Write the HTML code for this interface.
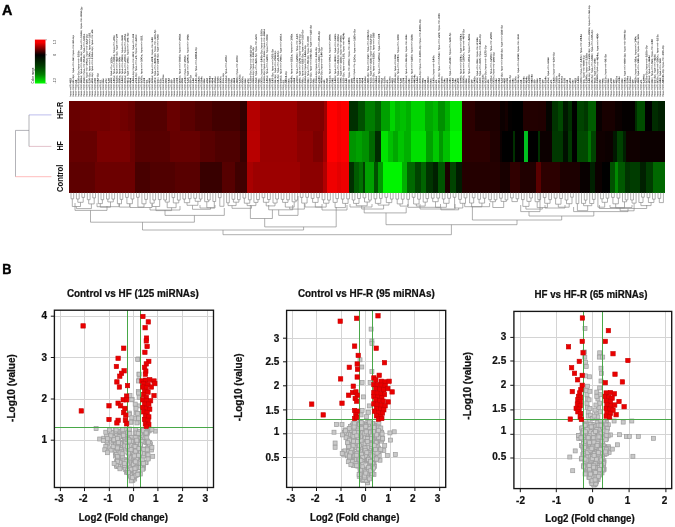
<!DOCTYPE html>
<html lang="en"><head><meta charset="utf-8"><title>miRNA heatmap and volcano plots</title>
<style>html,body{margin:0;padding:0;background:#fff}svg{display:block}</style></head><body>
<svg width="675" height="527" viewBox="0 0 675 527">
<rect width="675" height="527" fill="#fff"/>
<defs><linearGradient id="lg" x1="0" y1="0" x2="0" y2="1"><stop offset="0" stop-color="#ff0000"/><stop offset="0.07" stop-color="#f40000"/><stop offset="0.35" stop-color="#000"/><stop offset="0.6" stop-color="#003c00"/><stop offset="0.8" stop-color="#008000"/><stop offset="0.93" stop-color="#00d000"/><stop offset="1" stop-color="#00ff00"/></linearGradient></defs>
<g font-family='"Liberation Sans", sans-serif' font-weight="bold" fill="#000" stroke="#000" stroke-width="0.4" font-size="15.2">
<text transform="translate(2.1,15.0) scale(0.95,1)">A</text><text transform="translate(2.2,274.3) scale(0.84,1)">B</text></g>
<rect x="34.9" y="39.6" width="10.6" height="43.9" fill="url(#lg)"/>
<path d="M45.5,39.8h1.3M45.5,54.8h1.3M45.5,83.3h1.3" stroke="#444" stroke-width="0.5"/>
<g font-family='"Liberation Sans", sans-serif' font-size="2.9" fill="#111">
<text transform="translate(55.5,40) rotate(-90)" text-anchor="end">1.2</text>
<text transform="translate(55.5,54.8) rotate(-90)" text-anchor="middle">0</text>
<text transform="translate(55.5,83.2) rotate(-90)" text-anchor="start">-2.2</text>
<text transform="translate(34.3,83.5) rotate(-90)" font-size="2.6" textLength="16" lengthAdjust="spacingAndGlyphs">Color range</text>
</g>
<g font-family='"Liberation Sans", sans-serif' font-size="2.25" fill="#1c1c1c" stroke="#1c1c1c" stroke-width="0.05" text-rendering="geometricPrecision">
<text transform="translate(71.16,96.5) rotate(-89.97) scale(1.45,1)">hsa-miR-423</text>
<text transform="translate(73.89,96.5) rotate(-89.97) scale(1.45,1)">hsa-miR-30-3p; hpa-mir-92; hpa-mir-30-5p</text>
<text transform="translate(76.62,96.5) rotate(-89.97) scale(1.45,1)">hsa-miR-34</text>
<text transform="translate(79.35,96.5) rotate(-89.97) scale(1.45,1)">hsa-miR-210a-5p; hpa-mir-191c</text>
<text transform="translate(82.08,96.5) rotate(-89.97) scale(1.45,1)">hsa-miR-423a; hpa-mir-365-5p; hpa-mir-155b; hpa-mir-338-3p</text>
<text transform="translate(84.81,96.5) rotate(-89.97) scale(1.45,1)">hsa-miR-192c; hpa-mir-652b; hpa-mir-133a</text>
<text transform="translate(87.54,96.5) rotate(-89.97) scale(1.45,1)">hsa-miR-29; hpa-mir-191a; hpa-mir-222-3p</text>
<text transform="translate(90.27,96.5) rotate(-89.97) scale(1.45,1)">hsa-miR-150-5p; hpa-mir-199c; hpa-mir-181</text>
<text transform="translate(93.00,96.5) rotate(-89.97) scale(1.45,1)">hsa-miR-200-5p; hpa-mir-191a-5p; hpa-mir-29</text>
<text transform="translate(95.73,96.5) rotate(-89.97) scale(1.45,1)">hsa-miR-378</text>
<text transform="translate(98.46,96.5) rotate(-89.97) scale(1.45,1)">hsa-miR-342-5p</text>
<text transform="translate(101.19,96.5) rotate(-89.97) scale(1.45,1)">hsa-miR-21</text>
<text transform="translate(103.92,96.5) rotate(-89.97) scale(1.45,1)">hsa-miR-99c</text>
<text transform="translate(106.65,96.5) rotate(-89.97) scale(1.45,1)">hsa-miR-21c</text>
<text transform="translate(109.38,96.5) rotate(-89.97) scale(1.45,1)">hsa-miR-126</text>
<text transform="translate(112.11,96.5) rotate(-89.97) scale(1.45,1)">hsa-miR-223; hpa-mir-133b</text>
<text transform="translate(114.84,96.5) rotate(-89.97) scale(1.45,1)">hsa-miR-140a; hpa-mir-193a; hpa-mir-29a</text>
<text transform="translate(117.58,96.5) rotate(-89.97) scale(1.45,1)">hsa-miR-183b; hpa-mir-423-5p; hpa-mir-29</text>
<text transform="translate(120.31,96.5) rotate(-89.97) scale(1.45,1)">hsa-miR-296a; hpa-mir-99b</text>
<text transform="translate(123.04,96.5) rotate(-89.97) scale(1.45,1)">hsa-miR-148b; hpa-mir-766b; hpa-mir-324</text>
<text transform="translate(125.77,96.5) rotate(-89.97) scale(1.45,1)">hsa-miR-103a; hpa-mir-205b; hpa-mir-205a</text>
<text transform="translate(128.50,96.5) rotate(-89.97) scale(1.45,1)">hsa-miR-451; hpa-mir-195c; hpa-mir-191-5p</text>
<text transform="translate(131.23,96.5) rotate(-89.97) scale(1.45,1)">hsa-miR-494</text>
<text transform="translate(133.96,96.5) rotate(-89.97) scale(1.45,1)">hsa-miR-146a-5p; hpa-mir-361; hpa-mir-34</text>
<text transform="translate(136.69,96.5) rotate(-89.97) scale(1.45,1)">hsa-miR-214-5p; hpa-mir-21; hpa-mir-221c</text>
<text transform="translate(139.42,96.5) rotate(-89.97) scale(1.45,1)">hsa-miR-191c</text>
<text transform="translate(142.15,96.5) rotate(-89.97) scale(1.45,1)">hsa-miR-106b; hpa-mir-100a; hpa-mir-221</text>
<text transform="translate(144.88,96.5) rotate(-89.97) scale(1.45,1)">hsa-miR-574</text>
<text transform="translate(147.61,96.5) rotate(-89.97) scale(1.45,1)">hsa-miR-21</text>
<text transform="translate(150.34,96.5) rotate(-89.97) scale(1.45,1)">hsa-miR-499</text>
<text transform="translate(153.07,96.5) rotate(-89.97) scale(1.45,1)">hsa-miR-106a; hpa-mir-874; hpa-mir-143</text>
<text transform="translate(155.80,96.5) rotate(-89.97) scale(1.45,1)">hsa-miR-361; hpa-mir-484-3p; hpa-mir-181-5p</text>
<text transform="translate(158.53,96.5) rotate(-89.97) scale(1.45,1)">hsa-miR-21c; hpa-mir-324-5p; hpa-mir-103</text>
<text transform="translate(161.26,96.5) rotate(-89.97) scale(1.45,1)">hsa-miR-21c</text>
<text transform="translate(163.99,96.5) rotate(-89.97) scale(1.45,1)">hsa-miR-1275c</text>
<text transform="translate(166.72,96.5) rotate(-89.97) scale(1.45,1)">hsa-miR-660</text>
<text transform="translate(169.45,96.5) rotate(-89.97) scale(1.45,1)">hsa-miR-143</text>
<text transform="translate(172.18,96.5) rotate(-89.97) scale(1.45,1)">hsa-miR-29</text>
<text transform="translate(174.91,96.5) rotate(-89.97) scale(1.45,1)">hsa-miR-532</text>
<text transform="translate(177.64,96.5) rotate(-89.97) scale(1.45,1)">hsa-miR-374</text>
<text transform="translate(180.37,96.5) rotate(-89.97) scale(1.45,1)">hsa-miR-200b; hpa-mir-503b; hpa-mir-203a</text>
<text transform="translate(183.10,96.5) rotate(-89.97) scale(1.45,1)">hsa-miR-766</text>
<text transform="translate(185.83,96.5) rotate(-89.97) scale(1.45,1)">hsa-miR-214c; hpa-mir-766c</text>
<text transform="translate(188.56,96.5) rotate(-89.97) scale(1.45,1)">hsa-miR-122; hpa-mir-1290a; hpa-mir-192c</text>
<text transform="translate(191.29,96.5) rotate(-89.97) scale(1.45,1)">hsa-miR-29-5p</text>
<text transform="translate(194.02,96.5) rotate(-89.97) scale(1.45,1)">hsa-miR-140</text>
<text transform="translate(196.75,96.5) rotate(-89.97) scale(1.45,1)">hsa-miR-145-3p; hpa-mir-4454-5p</text>
<text transform="translate(199.48,96.5) rotate(-89.97) scale(1.45,1)">hsa-miR-342c</text>
<text transform="translate(202.21,96.5) rotate(-89.97) scale(1.45,1)">hsa-miR-324c</text>
<text transform="translate(204.94,96.5) rotate(-89.97) scale(1.45,1)">hsa-miR-99c</text>
<text transform="translate(207.68,96.5) rotate(-89.97) scale(1.45,1)">hsa-miR-222</text>
<text transform="translate(210.41,96.5) rotate(-89.97) scale(1.45,1)">hsa-miR-494a</text>
<text transform="translate(213.14,96.5) rotate(-89.97) scale(1.45,1)">hsa-miR-494</text>
<text transform="translate(215.87,96.5) rotate(-89.97) scale(1.45,1)">hsa-miR-766c</text>
<text transform="translate(218.60,96.5) rotate(-89.97) scale(1.45,1)">hsa-miR-192c</text>
<text transform="translate(221.33,96.5) rotate(-89.97) scale(1.45,1)">hsa-miR-200c</text>
<text transform="translate(224.06,96.5) rotate(-89.97) scale(1.45,1)">hsa-miR-155-5p</text>
<text transform="translate(226.79,96.5) rotate(-89.97) scale(1.45,1)">hsa-miR-182a; hpa-mir-205c</text>
<text transform="translate(229.52,96.5) rotate(-89.97) scale(1.45,1)">hsa-miR-378</text>
<text transform="translate(232.25,96.5) rotate(-89.97) scale(1.45,1)">hsa-miR-92c</text>
<text transform="translate(234.98,96.5) rotate(-89.97) scale(1.45,1)">hsa-miR-484</text>
<text transform="translate(237.71,96.5) rotate(-89.97) scale(1.45,1)">hsa-miR-486c; hpa-mir-100c</text>
<text transform="translate(240.44,96.5) rotate(-89.97) scale(1.45,1)">hsa-miR-1275c</text>
<text transform="translate(243.17,96.5) rotate(-89.97) scale(1.45,1)">hsa-miR-660c</text>
<text transform="translate(245.90,96.5) rotate(-89.97) scale(1.45,1)">hsa-miR-92c</text>
<text transform="translate(248.63,96.5) rotate(-89.97) scale(1.45,1)">hsa-miR-21c</text>
<text transform="translate(251.36,96.5) rotate(-89.97) scale(1.45,1)">hsa-miR-128a-5p; hpa-mir-3613-3p</text>
<text transform="translate(254.09,96.5) rotate(-89.97) scale(1.45,1)">hsa-miR-328a-5p; hpa-mir-130-3p</text>
<text transform="translate(256.82,96.5) rotate(-89.97) scale(1.45,1)">hsa-miR-532; hpa-mir-423-5p; hpa-mir-221</text>
<text transform="translate(259.55,96.5) rotate(-89.97) scale(1.45,1)">hsa-miR-92c</text>
<text transform="translate(262.28,96.5) rotate(-89.97) scale(1.45,1)">hsa-miR-365c; hpa-mir-148b-3p; hpa-mir-195b</text>
<text transform="translate(265.01,96.5) rotate(-89.97) scale(1.45,1)">hsa-miR-150b-3p; hpa-mir-155c; hpa-mir-590a</text>
<text transform="translate(267.74,96.5) rotate(-89.97) scale(1.45,1)">hsa-miR-146a; hpa-mir-128b; hpa-mir-503c</text>
<text transform="translate(270.47,96.5) rotate(-89.97) scale(1.45,1)">hsa-miR-320</text>
<text transform="translate(273.20,96.5) rotate(-89.97) scale(1.45,1)">hsa-miR-143-3p; hpa-mir-361-3p</text>
<text transform="translate(275.93,96.5) rotate(-89.97) scale(1.45,1)">hsa-miR-92-3p; hpa-mir-744-3p</text>
<text transform="translate(278.66,96.5) rotate(-89.97) scale(1.45,1)">hsa-miR-34-5p; hpa-mir-214-5p</text>
<text transform="translate(281.39,96.5) rotate(-89.97) scale(1.45,1)">hsa-miR-210a; hpa-mir-766c; hpa-mir-205a</text>
<text transform="translate(284.12,96.5) rotate(-89.97) scale(1.45,1)">hsa-miR-21</text>
<text transform="translate(286.85,96.5) rotate(-89.97) scale(1.45,1)">hsa-miR-4454-3p</text>
<text transform="translate(289.58,96.5) rotate(-89.97) scale(1.45,1)">hsa-miR-30c</text>
<text transform="translate(292.31,96.5) rotate(-89.97) scale(1.45,1)">hsa-miR-424b; hpa-mir-221a; hpa-mir-192a</text>
<text transform="translate(295.04,96.5) rotate(-89.97) scale(1.45,1)">hsa-miR-324</text>
<text transform="translate(297.77,96.5) rotate(-89.97) scale(1.45,1)">hsa-miR-210b; hpa-mir-1290c; hpa-mir-125</text>
<text transform="translate(300.51,96.5) rotate(-89.97) scale(1.45,1)">hsa-miR-29b; hpa-mir-374; hpa-mir-125-5p</text>
<text transform="translate(303.24,96.5) rotate(-89.97) scale(1.45,1)">hsa-miR-92c; hpa-mir-222-5p; hpa-mir-125-5p</text>
<text transform="translate(305.97,96.5) rotate(-89.97) scale(1.45,1)">hsa-miR-150a-5p; hpa-mir-148a-5p</text>
<text transform="translate(308.70,96.5) rotate(-89.97) scale(1.45,1)">hsa-miR-92c; hpa-mir-99-3p; hpa-mir-590</text>
<text transform="translate(311.43,96.5) rotate(-89.97) scale(1.45,1)">hsa-miR-155-5p; hpa-mir-34b-3p; hpa-mir-125-3p</text>
<text transform="translate(314.16,96.5) rotate(-89.97) scale(1.45,1)">hsa-miR-92c</text>
<text transform="translate(316.89,96.5) rotate(-89.97) scale(1.45,1)">hsa-miR-195a-5p; hpa-mir-122-3p</text>
<text transform="translate(319.62,96.5) rotate(-89.97) scale(1.45,1)">hsa-miR-214b; hpa-mir-183c; hpa-mir-361-3p</text>
<text transform="translate(322.35,96.5) rotate(-89.97) scale(1.45,1)">hsa-miR-499b-3p; hpa-mir-140-5p</text>
<text transform="translate(325.08,96.5) rotate(-89.97) scale(1.45,1)">hsa-miR-30</text>
<text transform="translate(327.81,96.5) rotate(-89.97) scale(1.45,1)">hsa-miR-590</text>
<text transform="translate(330.54,96.5) rotate(-89.97) scale(1.45,1)">hsa-miR-181a; hpa-mir-191a; hpa-mir-200c</text>
<text transform="translate(333.27,96.5) rotate(-89.97) scale(1.45,1)">hsa-miR-342</text>
<text transform="translate(336.00,96.5) rotate(-89.97) scale(1.45,1)">hsa-miR-140b; hpa-mir-497c; hpa-mir-122b</text>
<text transform="translate(338.73,96.5) rotate(-89.97) scale(1.45,1)">hsa-miR-155; hpa-mir-34-3p; hpa-mir-338a</text>
<text transform="translate(341.46,96.5) rotate(-89.97) scale(1.45,1)">hsa-miR-590; hpa-mir-183b; hpa-mir-106a</text>
<text transform="translate(344.19,96.5) rotate(-89.97) scale(1.45,1)">hsa-miR-183-5p; hpa-mir-181; hpa-mir-424c</text>
<text transform="translate(346.92,96.5) rotate(-89.97) scale(1.45,1)">hsa-miR-140</text>
<text transform="translate(349.65,96.5) rotate(-89.97) scale(1.45,1)">hsa-miR-92; hpa-mir-365c; hpa-mir-146b</text>
<text transform="translate(352.38,96.5) rotate(-89.97) scale(1.45,1)">hsa-miR-29b</text>
<text transform="translate(355.11,96.5) rotate(-89.97) scale(1.45,1)">hsa-miR-574c; hpa-mir-130a; hpa-mir-126b-3p</text>
<text transform="translate(357.84,96.5) rotate(-89.97) scale(1.45,1)">hsa-miR-221</text>
<text transform="translate(360.57,96.5) rotate(-89.97) scale(1.45,1)">hsa-miR-214</text>
<text transform="translate(363.30,96.5) rotate(-89.97) scale(1.45,1)">hsa-miR-494</text>
<text transform="translate(366.03,96.5) rotate(-89.97) scale(1.45,1)">hsa-miR-126c</text>
<text transform="translate(368.76,96.5) rotate(-89.97) scale(1.45,1)">hsa-miR-486-3p; hpa-mir-92c; hpa-mir-342-5p</text>
<text transform="translate(371.49,96.5) rotate(-89.97) scale(1.45,1)">hsa-miR-155; hpa-mir-338; hpa-mir-532-3p</text>
<text transform="translate(374.22,96.5) rotate(-89.97) scale(1.45,1)">hsa-miR-155-3p; hpa-mir-223c; hpa-mir-328</text>
<text transform="translate(376.95,96.5) rotate(-89.97) scale(1.45,1)">hsa-miR-342a</text>
<text transform="translate(379.68,96.5) rotate(-89.97) scale(1.45,1)">hsa-miR-423a; hpa-mir-1260a; hpa-mir-574</text>
<text transform="translate(382.41,96.5) rotate(-89.97) scale(1.45,1)">hsa-miR-652</text>
<text transform="translate(385.14,96.5) rotate(-89.97) scale(1.45,1)">hsa-miR-183c</text>
<text transform="translate(387.87,96.5) rotate(-89.97) scale(1.45,1)">hsa-miR-21</text>
<text transform="translate(390.61,96.5) rotate(-89.97) scale(1.45,1)">hsa-miR-150c</text>
<text transform="translate(393.34,96.5) rotate(-89.97) scale(1.45,1)">hsa-miR-423</text>
<text transform="translate(396.07,96.5) rotate(-89.97) scale(1.45,1)">hsa-miR-766-5p; hpa-mir-99c</text>
<text transform="translate(398.80,96.5) rotate(-89.97) scale(1.45,1)">hsa-miR-199b; hpa-mir-374b; hpa-mir-130c</text>
<text transform="translate(401.53,96.5) rotate(-89.97) scale(1.45,1)">hsa-miR-126</text>
<text transform="translate(404.26,96.5) rotate(-89.97) scale(1.45,1)">hsa-miR-374</text>
<text transform="translate(406.99,96.5) rotate(-89.97) scale(1.45,1)">hsa-miR-652a; hpa-mir-99-3p; hpa-mir-34c</text>
<text transform="translate(409.72,96.5) rotate(-89.97) scale(1.45,1)">hsa-miR-34c</text>
<text transform="translate(412.45,96.5) rotate(-89.97) scale(1.45,1)">hsa-miR-191a; hpa-mir-128b; hpa-mir-328c</text>
<text transform="translate(415.18,96.5) rotate(-89.97) scale(1.45,1)">hsa-miR-4454c</text>
<text transform="translate(417.91,96.5) rotate(-89.97) scale(1.45,1)">hsa-miR-148c</text>
<text transform="translate(420.64,96.5) rotate(-89.97) scale(1.45,1)">hsa-miR-100a-5p; hpa-mir-130b-3p; hpa-mir-486b-3p</text>
<text transform="translate(423.37,96.5) rotate(-89.97) scale(1.45,1)">hsa-miR-99a</text>
<text transform="translate(426.10,96.5) rotate(-89.97) scale(1.45,1)">hsa-miR-34</text>
<text transform="translate(428.83,96.5) rotate(-89.97) scale(1.45,1)">hsa-miR-423c</text>
<text transform="translate(431.56,96.5) rotate(-89.97) scale(1.45,1)">hsa-miR-30c</text>
<text transform="translate(434.29,96.5) rotate(-89.97) scale(1.45,1)">hsa-miR-143c; hpa-mir-148c</text>
<text transform="translate(437.02,96.5) rotate(-89.97) scale(1.45,1)">hsa-miR-21</text>
<text transform="translate(439.75,96.5) rotate(-89.97) scale(1.45,1)">hsa-miR-451-5p; hpa-mir-652c; hpa-mir-221; hpa-mir-34b</text>
<text transform="translate(442.48,96.5) rotate(-89.97) scale(1.45,1)">hsa-miR-210c</text>
<text transform="translate(445.21,96.5) rotate(-89.97) scale(1.45,1)">hsa-miR-34c</text>
<text transform="translate(447.94,96.5) rotate(-89.97) scale(1.45,1)">hsa-miR-328</text>
<text transform="translate(450.67,96.5) rotate(-89.97) scale(1.45,1)">hsa-miR-34b; hpa-mir-214c; hpa-mir-128-5p</text>
<text transform="translate(453.40,96.5) rotate(-89.97) scale(1.45,1)">hsa-miR-148</text>
<text transform="translate(456.13,96.5) rotate(-89.97) scale(1.45,1)">hsa-miR-34c</text>
<text transform="translate(458.86,96.5) rotate(-89.97) scale(1.45,1)">hsa-miR-200</text>
<text transform="translate(461.59,96.5) rotate(-89.97) scale(1.45,1)">hsa-miR-199b; hpa-mir-374c; hpa-mir-374a</text>
<text transform="translate(464.32,96.5) rotate(-89.97) scale(1.45,1)">hsa-miR-296b; hpa-mir-1290c; hpa-mir-497-3p</text>
<text transform="translate(467.05,96.5) rotate(-89.97) scale(1.45,1)">hsa-miR-99c</text>
<text transform="translate(469.78,96.5) rotate(-89.97) scale(1.45,1)">hsa-miR-660a; hpa-mir-361a; hpa-mir-423a</text>
<text transform="translate(472.51,96.5) rotate(-89.97) scale(1.45,1)">hsa-miR-29</text>
<text transform="translate(475.24,96.5) rotate(-89.97) scale(1.45,1)">hsa-miR-342c</text>
<text transform="translate(477.97,96.5) rotate(-89.97) scale(1.45,1)">hsa-miR-205; hpa-mir-30c; hpa-mir-214a</text>
<text transform="translate(480.71,96.5) rotate(-89.97) scale(1.45,1)">hsa-miR-185; hpa-mir-335; hpa-mir-425-3p</text>
<text transform="translate(483.44,96.5) rotate(-89.97) scale(1.45,1)">hsa-miR-3613c</text>
<text transform="translate(486.17,96.5) rotate(-89.97) scale(1.45,1)">hsa-miR-103b-3p; hpa-mir-1275-5p</text>
<text transform="translate(488.90,96.5) rotate(-89.97) scale(1.45,1)">hsa-miR-29</text>
<text transform="translate(491.63,96.5) rotate(-89.97) scale(1.45,1)">hsa-miR-378a; hpa-mir-1290c; hpa-mir-296b</text>
<text transform="translate(494.36,96.5) rotate(-89.97) scale(1.45,1)">hsa-miR-365c; hpa-mir-296-5p</text>
<text transform="translate(497.09,96.5) rotate(-89.97) scale(1.45,1)">hsa-miR-34c</text>
<text transform="translate(499.82,96.5) rotate(-89.97) scale(1.45,1)">hsa-miR-342</text>
<text transform="translate(502.55,96.5) rotate(-89.97) scale(1.45,1)">hsa-miR-133-3p; hpa-mir-203-3p; hpa-mir-338-5p</text>
<text transform="translate(505.28,96.5) rotate(-89.97) scale(1.45,1)">hsa-miR-486</text>
<text transform="translate(508.01,96.5) rotate(-89.97) scale(1.45,1)">hsa-miR-378</text>
<text transform="translate(510.74,96.5) rotate(-89.97) scale(1.45,1)">hsa-miR-92-5p</text>
<text transform="translate(513.47,96.5) rotate(-89.97) scale(1.45,1)">hsa-miR-34c</text>
<text transform="translate(516.20,96.5) rotate(-89.97) scale(1.45,1)">hsa-miR-130c</text>
<text transform="translate(518.93,96.5) rotate(-89.97) scale(1.45,1)">hsa-miR-92-5p; hpa-mir-1290; hpa-mir-150</text>
<text transform="translate(521.66,96.5) rotate(-89.97) scale(1.45,1)">hsa-miR-34</text>
<text transform="translate(524.39,96.5) rotate(-89.97) scale(1.45,1)">hsa-miR-874c</text>
<text transform="translate(527.12,96.5) rotate(-89.97) scale(1.45,1)">hsa-miR-484c</text>
<text transform="translate(529.85,96.5) rotate(-89.97) scale(1.45,1)">hsa-miR-1290c</text>
<text transform="translate(532.58,96.5) rotate(-89.97) scale(1.45,1)">hsa-miR-4454a</text>
<text transform="translate(535.31,96.5) rotate(-89.97) scale(1.45,1)">hsa-miR-29</text>
<text transform="translate(538.04,96.5) rotate(-89.97) scale(1.45,1)">hsa-miR-92c</text>
<text transform="translate(540.77,96.5) rotate(-89.97) scale(1.45,1)">hsa-miR-374</text>
<text transform="translate(543.50,96.5) rotate(-89.97) scale(1.45,1)">hsa-miR-29</text>
<text transform="translate(546.23,96.5) rotate(-89.97) scale(1.45,1)">hsa-miR-214c</text>
<text transform="translate(548.96,96.5) rotate(-89.97) scale(1.45,1)">hsa-miR-21a; hpa-mir-532c</text>
<text transform="translate(551.69,96.5) rotate(-89.97) scale(1.45,1)">hsa-miR-21</text>
<text transform="translate(554.42,96.5) rotate(-89.97) scale(1.45,1)">hsa-miR-148c; hpa-mir-150-5p</text>
<text transform="translate(557.15,96.5) rotate(-89.97) scale(1.45,1)">hsa-miR-328b</text>
<text transform="translate(559.88,96.5) rotate(-89.97) scale(1.45,1)">hsa-miR-181-3p</text>
<text transform="translate(562.61,96.5) rotate(-89.97) scale(1.45,1)">hsa-miR-100a</text>
<text transform="translate(565.34,96.5) rotate(-89.97) scale(1.45,1)">hsa-miR-193</text>
<text transform="translate(568.07,96.5) rotate(-89.97) scale(1.45,1)">hsa-miR-34</text>
<text transform="translate(570.80,96.5) rotate(-89.97) scale(1.45,1)">hsa-miR-203</text>
<text transform="translate(573.54,96.5) rotate(-89.97) scale(1.45,1)">hsa-miR-30</text>
<text transform="translate(576.27,96.5) rotate(-89.97) scale(1.45,1)">hsa-miR-423</text>
<text transform="translate(579.00,96.5) rotate(-89.97) scale(1.45,1)">hsa-miR-146b</text>
<text transform="translate(581.73,96.5) rotate(-89.97) scale(1.45,1)">hsa-miR-335c; hpa-mir-145c; hpa-mir-744a</text>
<text transform="translate(584.46,96.5) rotate(-89.97) scale(1.45,1)">hsa-miR-21; hpa-mir-660-5p</text>
<text transform="translate(587.19,96.5) rotate(-89.97) scale(1.45,1)">hsa-miR-1290c; hpa-mir-128a</text>
<text transform="translate(589.92,96.5) rotate(-89.97) scale(1.45,1)">hsa-miR-148-5p; hpa-mir-223-3p; hpa-mir-378b; hpa-mir-92-5p</text>
<text transform="translate(592.65,96.5) rotate(-89.97) scale(1.45,1)">hsa-miR-99-5p; hpa-mir-148c; hpa-mir-195-3p</text>
<text transform="translate(595.38,96.5) rotate(-89.97) scale(1.45,1)">hsa-miR-103; hpa-mir-34b</text>
<text transform="translate(598.11,96.5) rotate(-89.97) scale(1.45,1)">hsa-miR-1290b; hpa-mir-484a; hpa-mir-499</text>
<text transform="translate(600.84,96.5) rotate(-89.97) scale(1.45,1)">hsa-miR-99</text>
<text transform="translate(603.57,96.5) rotate(-89.97) scale(1.45,1)">hsa-miR-99c</text>
<text transform="translate(606.30,96.5) rotate(-89.97) scale(1.45,1)">hsa-miR-181c; hpa-mir-92-3p</text>
<text transform="translate(609.03,96.5) rotate(-89.97) scale(1.45,1)">hsa-miR-92c</text>
<text transform="translate(611.76,96.5) rotate(-89.97) scale(1.45,1)">hsa-miR-210</text>
<text transform="translate(614.49,96.5) rotate(-89.97) scale(1.45,1)">hsa-miR-29</text>
<text transform="translate(617.22,96.5) rotate(-89.97) scale(1.45,1)">hsa-miR-425a</text>
<text transform="translate(619.95,96.5) rotate(-89.97) scale(1.45,1)">hsa-miR-574c</text>
<text transform="translate(622.68,96.5) rotate(-89.97) scale(1.45,1)">hsa-miR-92c</text>
<text transform="translate(625.41,96.5) rotate(-89.97) scale(1.45,1)">hsa-miR-34a; hpa-mir-660-3p; hpa-mir-590-5p</text>
<text transform="translate(628.14,96.5) rotate(-89.97) scale(1.45,1)">hsa-miR-199a</text>
<text transform="translate(630.87,96.5) rotate(-89.97) scale(1.45,1)">hsa-miR-185c</text>
<text transform="translate(633.60,96.5) rotate(-89.97) scale(1.45,1)">hsa-miR-29</text>
<text transform="translate(636.33,96.5) rotate(-89.97) scale(1.45,1)">hsa-miR-423c; hpa-mir-92a; hpa-mir-140c</text>
<text transform="translate(639.06,96.5) rotate(-89.97) scale(1.45,1)">hsa-miR-423; hpa-mir-146-5p; hpa-mir-125</text>
<text transform="translate(641.79,96.5) rotate(-89.97) scale(1.45,1)">hsa-miR-21</text>
<text transform="translate(644.52,96.5) rotate(-89.97) scale(1.45,1)">hsa-miR-1290a</text>
<text transform="translate(647.25,96.5) rotate(-89.97) scale(1.45,1)">hsa-miR-103a-5p; hpa-mir-185b-3p</text>
<text transform="translate(649.98,96.5) rotate(-89.97) scale(1.45,1)">hsa-miR-205a; hpa-mir-424c</text>
<text transform="translate(652.71,96.5) rotate(-89.97) scale(1.45,1)">hsa-miR-92c; hpa-mir-92a; hpa-mir-148</text>
<text transform="translate(655.44,96.5) rotate(-89.97) scale(1.45,1)">hsa-miR-21-3p; hpa-mir-425c</text>
<text transform="translate(658.17,96.5) rotate(-89.97) scale(1.45,1)">hsa-miR-205c; hpa-mir-320c; hpa-mir-181c</text>
<text transform="translate(660.90,96.5) rotate(-89.97) scale(1.45,1)">hsa-miR-342; hpa-mir-150</text>
<text transform="translate(663.64,96.5) rotate(-89.97) scale(1.45,1)">hsa-miR-4454b-3p; hpa-mir-195-3p</text>
</g>
<g shape-rendering="crispEdges">
<rect x="69.0" y="101.0" width="11.3" height="30.5" fill="#680000"/>
<rect x="80.0" y="101.0" width="10.3" height="30.5" fill="#6e0000"/>
<rect x="90.0" y="101.0" width="10.3" height="30.5" fill="#740000"/>
<rect x="100.0" y="101.0" width="10.3" height="30.5" fill="#700000"/>
<rect x="110.0" y="101.0" width="10.3" height="30.5" fill="#780000"/>
<rect x="120.0" y="101.0" width="8.3" height="30.5" fill="#700000"/>
<rect x="128.0" y="101.0" width="7.3" height="30.5" fill="#680000"/>
<rect x="135.0" y="101.0" width="15.3" height="30.5" fill="#520000"/>
<rect x="150.0" y="101.0" width="17.3" height="30.5" fill="#540000"/>
<rect x="167.0" y="101.0" width="13.3" height="30.5" fill="#680000"/>
<rect x="180.0" y="101.0" width="15.3" height="30.5" fill="#5a0000"/>
<rect x="195.0" y="101.0" width="17.3" height="30.5" fill="#4e0000"/>
<rect x="212.0" y="101.0" width="28.3" height="30.5" fill="#420000"/>
<rect x="240.0" y="101.0" width="7.3" height="30.5" fill="#300000"/>
<rect x="247.0" y="101.0" width="13.3" height="30.5" fill="#b40000"/>
<rect x="260.0" y="101.0" width="37.3" height="30.5" fill="#9a0000"/>
<rect x="297.0" y="101.0" width="23.3" height="30.5" fill="#840000"/>
<rect x="320.0" y="101.0" width="4.3" height="30.5" fill="#800000"/>
<rect x="324.0" y="101.0" width="3.3" height="30.5" fill="#a00000"/>
<rect x="327.0" y="101.0" width="10.3" height="30.5" fill="#ff0000"/>
<rect x="337.0" y="101.0" width="4.3" height="30.5" fill="#f20000"/>
<rect x="341.0" y="101.0" width="8.3" height="30.5" fill="#fc0000"/>
<rect x="349.0" y="101.0" width="9.6" height="30.5" fill="#003000"/>
<rect x="358.3" y="101.0" width="7.0" height="30.5" fill="#005000"/>
<rect x="365.0" y="101.0" width="10.0" height="30.5" fill="#007c00"/>
<rect x="374.7" y="101.0" width="7.0" height="30.5" fill="#006000"/>
<rect x="381.4" y="101.0" width="8.9" height="30.5" fill="#00a000"/>
<rect x="390.0" y="101.0" width="5.3" height="30.5" fill="#00d400"/>
<rect x="395.0" y="101.0" width="5.3" height="30.5" fill="#00b400"/>
<rect x="400.0" y="101.0" width="5.8" height="30.5" fill="#00c000"/>
<rect x="405.5" y="101.0" width="5.8" height="30.5" fill="#00b000"/>
<rect x="411.0" y="101.0" width="14.1" height="30.5" fill="#00d400"/>
<rect x="424.8" y="101.0" width="8.0" height="30.5" fill="#00a800"/>
<rect x="432.5" y="101.0" width="5.8" height="30.5" fill="#00b800"/>
<rect x="438.0" y="101.0" width="7.3" height="30.5" fill="#009000"/>
<rect x="445.0" y="101.0" width="5.3" height="30.5" fill="#00b000"/>
<rect x="450.0" y="101.0" width="11.9" height="30.5" fill="#00e800"/>
<rect x="461.6" y="101.0" width="13.7" height="30.5" fill="#2c0000"/>
<rect x="475.0" y="101.0" width="25.3" height="30.5" fill="#1c0000"/>
<rect x="500.0" y="101.0" width="5.3" height="30.5" fill="#0c0000"/>
<rect x="505.0" y="101.0" width="3.3" height="30.5" fill="#140000"/>
<rect x="508.0" y="101.0" width="4.3" height="30.5" fill="#040000"/>
<rect x="512.0" y="101.0" width="11.3" height="30.5" fill="#000000"/>
<rect x="523.0" y="101.0" width="15.3" height="30.5" fill="#220000"/>
<rect x="538.0" y="101.0" width="8.3" height="30.5" fill="#200000"/>
<rect x="546.0" y="101.0" width="6.3" height="30.5" fill="#040400"/>
<rect x="552.0" y="101.0" width="6.3" height="30.5" fill="#003400"/>
<rect x="558.0" y="101.0" width="5.3" height="30.5" fill="#004800"/>
<rect x="563.0" y="101.0" width="5.3" height="30.5" fill="#001800"/>
<rect x="568.0" y="101.0" width="4.3" height="30.5" fill="#003000"/>
<rect x="572.0" y="101.0" width="5.3" height="30.5" fill="#000000"/>
<rect x="577.0" y="101.0" width="7.3" height="30.5" fill="#004400"/>
<rect x="584.0" y="101.0" width="4.3" height="30.5" fill="#003800"/>
<rect x="588.0" y="101.0" width="8.3" height="30.5" fill="#005c00"/>
<rect x="596.0" y="101.0" width="6.3" height="30.5" fill="#080000"/>
<rect x="602.0" y="101.0" width="13.3" height="30.5" fill="#180000"/>
<rect x="615.0" y="101.0" width="7.3" height="30.5" fill="#0c0000"/>
<rect x="622.0" y="101.0" width="13.3" height="30.5" fill="#040000"/>
<rect x="635.0" y="101.0" width="2.3" height="30.5" fill="#002c00"/>
<rect x="637.0" y="101.0" width="8.3" height="30.5" fill="#004c00"/>
<rect x="645.0" y="101.0" width="7.3" height="30.5" fill="#000000"/>
<rect x="652.0" y="101.0" width="6.3" height="30.5" fill="#002c00"/>
<rect x="658.0" y="101.0" width="6.5" height="30.5" fill="#002000"/>
<rect x="69.0" y="131.3" width="28.3" height="30.5" fill="#660000"/>
<rect x="97.0" y="131.3" width="33.3" height="30.5" fill="#7a0000"/>
<rect x="130.0" y="131.3" width="5.3" height="30.5" fill="#6a0000"/>
<rect x="135.0" y="131.3" width="35.3" height="30.5" fill="#580000"/>
<rect x="170.0" y="131.3" width="30.3" height="30.5" fill="#660000"/>
<rect x="200.0" y="131.3" width="15.3" height="30.5" fill="#580000"/>
<rect x="215.0" y="131.3" width="25.3" height="30.5" fill="#4e0000"/>
<rect x="240.0" y="131.3" width="7.3" height="30.5" fill="#380000"/>
<rect x="247.0" y="131.3" width="13.3" height="30.5" fill="#b80000"/>
<rect x="260.0" y="131.3" width="37.3" height="30.5" fill="#9a0000"/>
<rect x="297.0" y="131.3" width="16.3" height="30.5" fill="#8c0000"/>
<rect x="313.0" y="131.3" width="10.3" height="30.5" fill="#7c0000"/>
<rect x="323.0" y="131.3" width="4.3" height="30.5" fill="#a00000"/>
<rect x="327.0" y="131.3" width="10.3" height="30.5" fill="#ff0000"/>
<rect x="337.0" y="131.3" width="4.3" height="30.5" fill="#f40000"/>
<rect x="341.0" y="131.3" width="8.3" height="30.5" fill="#fc0000"/>
<rect x="349.0" y="131.3" width="7.3" height="30.5" fill="#009400"/>
<rect x="356.0" y="131.3" width="6.3" height="30.5" fill="#00a000"/>
<rect x="362.0" y="131.3" width="7.3" height="30.5" fill="#009000"/>
<rect x="369.0" y="131.3" width="6.0" height="30.5" fill="#006800"/>
<rect x="374.7" y="131.3" width="7.0" height="30.5" fill="#002c00"/>
<rect x="381.4" y="131.3" width="6.9" height="30.5" fill="#00e400"/>
<rect x="388.0" y="131.3" width="5.3" height="30.5" fill="#00c000"/>
<rect x="393.0" y="131.3" width="5.3" height="30.5" fill="#00a800"/>
<rect x="398.0" y="131.3" width="5.9" height="30.5" fill="#00c400"/>
<rect x="403.6" y="131.3" width="7.7" height="30.5" fill="#00b000"/>
<rect x="411.0" y="131.3" width="15.0" height="30.5" fill="#00e000"/>
<rect x="425.7" y="131.3" width="7.1" height="30.5" fill="#00a000"/>
<rect x="432.5" y="131.3" width="6.8" height="30.5" fill="#00c800"/>
<rect x="439.0" y="131.3" width="4.3" height="30.5" fill="#009800"/>
<rect x="443.0" y="131.3" width="7.3" height="30.5" fill="#00c000"/>
<rect x="450.0" y="131.3" width="11.9" height="30.5" fill="#00f400"/>
<rect x="461.6" y="131.3" width="28.7" height="30.5" fill="#2c0000"/>
<rect x="490.0" y="131.3" width="10.3" height="30.5" fill="#200000"/>
<rect x="500.0" y="131.3" width="2.3" height="30.5" fill="#0c0000"/>
<rect x="502.0" y="131.3" width="11.3" height="30.5" fill="#000000"/>
<rect x="513.0" y="131.3" width="2.3" height="30.5" fill="#003000"/>
<rect x="515.0" y="131.3" width="9.3" height="30.5" fill="#000000"/>
<rect x="524.0" y="131.3" width="4.3" height="30.5" fill="#00c020"/>
<rect x="528.0" y="131.3" width="10.3" height="30.5" fill="#000000"/>
<rect x="538.0" y="131.3" width="2.3" height="30.5" fill="#003000"/>
<rect x="540.0" y="131.3" width="12.3" height="30.5" fill="#0c0000"/>
<rect x="552.0" y="131.3" width="11.3" height="30.5" fill="#003800"/>
<rect x="563.0" y="131.3" width="5.3" height="30.5" fill="#001000"/>
<rect x="568.0" y="131.3" width="4.3" height="30.5" fill="#003800"/>
<rect x="572.0" y="131.3" width="5.3" height="30.5" fill="#000000"/>
<rect x="577.0" y="131.3" width="10.8" height="30.5" fill="#004a00"/>
<rect x="587.5" y="131.3" width="3.3" height="30.5" fill="#007400"/>
<rect x="590.5" y="131.3" width="5.8" height="30.5" fill="#004400"/>
<rect x="596.0" y="131.3" width="9.3" height="30.5" fill="#100000"/>
<rect x="605.0" y="131.3" width="8.3" height="30.5" fill="#0c0000"/>
<rect x="613.0" y="131.3" width="4.3" height="30.5" fill="#001800"/>
<rect x="617.0" y="131.3" width="6.3" height="30.5" fill="#004000"/>
<rect x="623.0" y="131.3" width="3.3" height="30.5" fill="#002000"/>
<rect x="626.0" y="131.3" width="14.3" height="30.5" fill="#100000"/>
<rect x="640.0" y="131.3" width="24.5" height="30.5" fill="#0c0000"/>
<rect x="69.0" y="161.6" width="26.3" height="31.0" fill="#5e0000"/>
<rect x="95.0" y="161.6" width="40.3" height="31.0" fill="#6c0000"/>
<rect x="135.0" y="161.6" width="15.3" height="31.0" fill="#480000"/>
<rect x="150.0" y="161.6" width="25.3" height="31.0" fill="#500000"/>
<rect x="175.0" y="161.6" width="25.3" height="31.0" fill="#580000"/>
<rect x="200.0" y="161.6" width="22.3" height="31.0" fill="#380000"/>
<rect x="222.0" y="161.6" width="13.3" height="31.0" fill="#560000"/>
<rect x="235.0" y="161.6" width="12.3" height="31.0" fill="#400000"/>
<rect x="247.0" y="161.6" width="6.3" height="31.0" fill="#a80000"/>
<rect x="253.0" y="161.6" width="47.3" height="31.0" fill="#9c0000"/>
<rect x="300.0" y="161.6" width="23.3" height="31.0" fill="#8c0000"/>
<rect x="323.0" y="161.6" width="4.3" height="31.0" fill="#b00000"/>
<rect x="327.0" y="161.6" width="10.3" height="31.0" fill="#f00000"/>
<rect x="337.0" y="161.6" width="4.3" height="31.0" fill="#e40000"/>
<rect x="341.0" y="161.6" width="8.3" height="31.0" fill="#ee0000"/>
<rect x="349.0" y="161.6" width="5.7" height="31.0" fill="#003000"/>
<rect x="354.4" y="161.6" width="5.2" height="31.0" fill="#005c00"/>
<rect x="359.3" y="161.6" width="3.5" height="31.0" fill="#007000"/>
<rect x="362.5" y="161.6" width="2.8" height="31.0" fill="#004000"/>
<rect x="365.0" y="161.6" width="9.0" height="31.0" fill="#00a000"/>
<rect x="373.7" y="161.6" width="4.2" height="31.0" fill="#005000"/>
<rect x="377.6" y="161.6" width="6.1" height="31.0" fill="#009800"/>
<rect x="383.4" y="161.6" width="18.6" height="31.0" fill="#00f400"/>
<rect x="401.7" y="161.6" width="5.1" height="31.0" fill="#00b000"/>
<rect x="406.5" y="161.6" width="8.8" height="31.0" fill="#006800"/>
<rect x="415.0" y="161.6" width="6.3" height="31.0" fill="#004400"/>
<rect x="421.0" y="161.6" width="5.0" height="31.0" fill="#006400"/>
<rect x="425.7" y="161.6" width="7.1" height="31.0" fill="#003400"/>
<rect x="432.5" y="161.6" width="6.1" height="31.0" fill="#002000"/>
<rect x="438.3" y="161.6" width="7.0" height="31.0" fill="#005400"/>
<rect x="445.0" y="161.6" width="5.3" height="31.0" fill="#1c0000"/>
<rect x="450.0" y="161.6" width="5.9" height="31.0" fill="#004400"/>
<rect x="455.6" y="161.6" width="6.3" height="31.0" fill="#001c00"/>
<rect x="461.6" y="161.6" width="38.7" height="31.0" fill="#240000"/>
<rect x="500.0" y="161.6" width="10.3" height="31.0" fill="#180000"/>
<rect x="510.0" y="161.6" width="10.3" height="31.0" fill="#300000"/>
<rect x="520.0" y="161.6" width="15.8" height="31.0" fill="#200000"/>
<rect x="535.5" y="161.6" width="5.8" height="31.0" fill="#5a0000"/>
<rect x="541.0" y="161.6" width="19.3" height="31.0" fill="#2c0000"/>
<rect x="560.0" y="161.6" width="20.3" height="31.0" fill="#1c0000"/>
<rect x="580.0" y="161.6" width="10.3" height="31.0" fill="#080000"/>
<rect x="590.0" y="161.6" width="5.3" height="31.0" fill="#002000"/>
<rect x="595.0" y="161.6" width="7.3" height="31.0" fill="#0c0000"/>
<rect x="602.0" y="161.6" width="8.1" height="31.0" fill="#000000"/>
<rect x="609.8" y="161.6" width="5.5" height="31.0" fill="#005000"/>
<rect x="615.0" y="161.6" width="2.9" height="31.0" fill="#008800"/>
<rect x="617.6" y="161.6" width="7.7" height="31.0" fill="#005800"/>
<rect x="625.0" y="161.6" width="5.3" height="31.0" fill="#003400"/>
<rect x="630.0" y="161.6" width="10.3" height="31.0" fill="#003c00"/>
<rect x="640.0" y="161.6" width="6.3" height="31.0" fill="#002000"/>
<rect x="646.0" y="161.6" width="6.8" height="31.0" fill="#003c00"/>
<rect x="652.5" y="161.6" width="12.0" height="31.0" fill="#006800"/>
</g>
<g fill="none" stroke-width="0.6">
<path d="M29,114.9H51.4" stroke="#9090e0"/>
<path d="M29,146.4H51.4" stroke="#d098a8"/>
<path d="M29,114.9V146.4M15.5,130.4H29M15.5,130.4V176.7" stroke="#808088"/>
<path d="M15.5,176.7H51.4" stroke="#ff9090"/>
</g>
<g font-family='"Liberation Sans", sans-serif' font-weight="bold" fill="#111" font-size="8.8" lengthAdjust="spacingAndGlyphs">
<text transform="translate(63,119.1) rotate(-90)" textLength="17.3" lengthAdjust="spacingAndGlyphs">HF-R</text>
<text transform="translate(63,150.6) rotate(-90)" textLength="9.5" lengthAdjust="spacingAndGlyphs">HF</text>
<text transform="translate(63,192) rotate(-90)" textLength="27.5" lengthAdjust="spacingAndGlyphs">Control</text>
</g>
<path d="M71.0,192.6V198.8H73.7V192.6M76.4,192.6V199.0H79.2V192.6M81.9,192.6V197.4H84.6V192.6M87.3,192.6V199.7H90.1V192.6M92.8,192.6V197.9H95.5V192.6M101.0,192.6V199.7H103.7V192.6M106.5,192.6V199.1H109.2V192.6M111.9,192.6V199.1H114.6V192.6M120.1,192.6V199.4H122.8V192.6M125.6,192.6V197.4H128.3V192.6M131.0,192.6V199.0H133.8V192.6M136.5,192.6V197.3H139.2V192.6M144.7,192.6V199.4H147.4V192.6M152.9,192.6V200.0H155.6V192.6M158.3,192.6V199.6H161.1V192.6M163.8,192.6V200.0H166.5V192.6M172.0,192.6V197.6H174.7V192.6M177.4,192.6V200.1H180.2V192.6M182.9,192.6V199.1H185.6V192.6M188.4,192.6V198.7H191.1V192.6M193.8,192.6V198.3H196.6V192.6M199.3,192.6V199.0H202.0V192.6M207.5,192.6V200.0H210.2V192.6M218.4,192.6V197.7H221.1V192.6M232.0,192.6V199.3H234.8V192.6M237.5,192.6V199.7H240.2V192.6M243.0,192.6V198.1H245.7V192.6M248.4,192.6V199.8H251.2V192.6M256.6,192.6V199.6H259.4V192.6M262.1,192.6V197.7H264.8V192.6M267.5,192.6V199.5H270.3V192.6M275.7,192.6V199.0H278.5V192.6M281.2,192.6V199.4H283.9V192.6M286.7,192.6V199.8H289.4V192.6M294.8,192.6V200.2H297.6V192.6M300.3,192.6V197.4H303.0V192.6M305.8,192.6V197.3H308.5V192.6M311.2,192.6V198.4H314.0V192.6M316.7,192.6V197.7H319.4V192.6M322.1,192.6V199.8H324.9V192.6M327.6,192.6V200.1H330.3V192.6M335.8,192.6V198.6H338.5V192.6M341.3,192.6V199.1H344.0V192.6M346.7,192.6V198.9H349.5V192.6M352.2,192.6V200.0H354.9V192.6M357.6,192.6V198.5H360.4V192.6M363.1,192.6V197.9H365.8V192.6M368.6,192.6V200.1H371.3V192.6M374.0,192.6V198.8H376.8V192.6M379.5,192.6V198.4H382.2V192.6M384.9,192.6V197.3H387.7V192.6M390.4,192.6V199.1H393.1V192.6M395.9,192.6V199.1H398.6V192.6M401.3,192.6V199.2H404.1V192.6M406.8,192.6V199.3H409.5V192.6M412.2,192.6V197.3H415.0V192.6M417.7,192.6V199.2H420.4V192.6M425.9,192.6V198.6H428.6V192.6M431.4,192.6V198.2H434.1V192.6M436.8,192.6V198.1H439.6V192.6M442.3,192.6V199.0H445.0V192.6M447.7,192.6V198.3H450.5V192.6M453.2,192.6V197.3H455.9V192.6M458.7,192.6V199.4H461.4V192.6M464.1,192.6V197.9H466.9V192.6M472.3,192.6V197.8H475.0V192.6M477.8,192.6V199.3H480.5V192.6M483.2,192.6V198.2H486.0V192.6M488.7,192.6V199.7H491.4V192.6M494.2,192.6V199.8H496.9V192.6M499.6,192.6V198.2H502.3V192.6M505.1,192.6V199.9H507.8V192.6M510.5,192.6V197.9H513.3V192.6M516.0,192.6V198.8H518.7V192.6M521.5,192.6V199.6H524.2V192.6M529.7,192.6V198.0H532.4V192.6M537.8,192.6V199.6H540.6V192.6M543.3,192.6V197.6H546.0V192.6M548.8,192.6V199.6H551.5V192.6M554.2,192.6V198.2H557.0V192.6M559.7,192.6V198.5H562.4V192.6M565.1,192.6V200.0H567.9V192.6M570.6,192.6V197.2H573.3V192.6M584.3,192.6V200.1H587.0V192.6M592.4,192.6V199.4H595.2V192.6M600.6,192.6V198.8H603.4V192.6M606.1,192.6V198.2H608.8V192.6M611.6,192.6V197.4H614.3V192.6M617.0,192.6V198.1H619.8V192.6M625.2,192.6V199.9H627.9V192.6M630.7,192.6V200.0H633.4V192.6M641.6,192.6V197.2H644.3V192.6M647.1,192.6V197.7H649.8V192.6M652.5,192.6V199.2H655.2V192.6M658.0,192.6V198.4H660.7V192.6M77.8,199.0V202.3H83.2V197.4M88.7,199.7V203.9H94.2V197.9M98.3,192.6V203.6H102.4V199.7M107.8,199.1V201.9H113.3V199.1M117.4,192.6V203.8H121.5V199.4M126.9,197.4V203.7H132.4V199.0M141.9,192.6V203.8H146.0V199.4M150.1,192.6V203.2H154.2V200.0M165.2,200.0V202.1H169.3V192.6M173.3,197.6V202.9H178.8V200.1M184.3,199.1V202.7H189.7V198.7M195.2,198.3V201.3H200.6V199.0M204.7,192.6V201.7H208.8V200.0M212.9,192.6V201.5H215.7V192.6M226.6,192.6V202.8H229.3V192.6M233.4,199.3V202.2H238.9V199.7M244.3,198.1V203.2H249.8V199.8M253.9,192.6V202.4H258.0V199.6M263.4,197.7V202.3H268.9V199.5M273.0,192.6V203.0H277.1V199.0M282.6,199.4V202.4H288.0V199.8M292.1,192.6V201.8H296.2V200.2M301.7,197.4V203.1H307.1V197.3M312.6,198.4V202.4H318.1V197.7M323.5,199.8V203.2H329.0V200.1M333.1,192.6V202.4H337.2V198.6M342.6,199.1V203.4H348.1V198.9M353.5,200.0V203.4H359.0V198.5M364.5,197.9V202.0H369.9V200.1M375.4,198.8V203.4H380.8V198.4M386.3,197.3V202.6H391.8V199.1M397.2,199.1V203.9H402.7V199.2M413.6,197.3V204.0H419.1V199.2M423.2,192.6V202.1H427.3V198.6M432.7,198.2V201.7H438.2V198.1M443.6,199.0V203.3H449.1V198.3M460.0,199.4V203.3H465.5V197.9M469.6,192.6V203.0H473.7V197.8M479.1,199.3V203.1H484.6V198.2M490.1,199.7V201.7H495.5V199.8M501.0,198.2V201.4H506.4V199.9M511.9,197.9V201.6H517.4V198.8M526.9,192.6V201.4H531.0V198.0M535.1,192.6V201.7H539.2V199.6M544.7,197.6V203.3H550.1V199.6M555.6,198.2V204.2H561.0V198.5M566.5,200.0V203.7H572.0V197.2M576.1,192.6V203.6H578.8V192.6M581.5,192.6V203.4H585.6V200.1M589.7,192.6V203.5H593.8V199.4M602.0,198.8V202.3H607.5V198.2M612.9,197.4V203.8H618.4V198.1M622.5,192.6V201.8H626.6V199.9M632.0,200.0V203.1H636.1V192.6M638.9,192.6V202.5H643.0V197.2M648.4,197.7V202.5H653.9V199.2M659.3,198.4V202.6H663.4V192.6M72.3,198.8V206.5H80.5V202.3M100.3,203.6V207.2H110.5V201.9M119.4,203.8V207.1H129.7V203.7M137.9,197.3V207.0H144.0V203.8M152.2,203.2V206.5H159.7V199.6M167.2,202.1V207.7H176.1V202.9M187.0,202.7V205.3H197.9V201.3M206.8,201.7V207.7H214.3V201.5M219.8,197.7V206.3H223.9V192.6M228.0,202.8V205.6H236.1V202.2M247.1,203.2V205.6H255.9V202.4M266.2,202.3V205.9H275.0V203.0M285.3,202.4V207.1H294.2V201.8M315.3,202.4V207.1H326.2V203.2M335.1,202.4V207.6H345.4V203.4M356.3,203.4V205.8H367.2V202.0M378.1,203.4V205.1H389.0V202.6M400.0,203.9V206.1H408.2V199.3M416.3,204.0V206.1H425.2V202.1M435.5,201.7V207.3H446.4V203.3M454.6,197.3V208.0H462.8V203.3M471.6,203.0V206.8H481.9V203.1M492.8,201.7V207.5H503.7V201.4M522.8,199.6V206.4H529.0V201.4M537.2,201.7V207.6H547.4V203.3M558.3,204.2V207.2H569.2V203.7M583.6,203.4V205.7H591.8V203.5M597.9,192.6V207.2H604.7V202.3M615.7,203.8V207.9H624.5V201.8M640.9,202.5V205.6H651.1V202.5M76.4,206.5V208.6H91.4V203.9M155.9,206.5V210.6H171.6V207.7M192.5,205.3V209.3H210.5V207.7M232.0,205.6V208.3H251.5V205.6M289.7,207.1V209.1H304.4V203.1M361.7,205.8V209.0H383.6V205.1M440.9,207.3V209.8H458.7V208.0M525.9,206.4V209.1H542.3V207.6M577.4,203.6V210.7H587.7V205.7M620.1,207.9V210.8H634.1V203.1M75.0,203.0V210.4H107.0V206.0M90.5,210.4V222.2H194.4V215.4M165.0,210.0V215.4H224.3V208.0M97.0,203.0V206.7H119.0V203.0M142.5,222.2V230.0H303.6V226.9M223.0,230.0V234.7H451.4V224.7M250.4,205.0V218.5H272.4V209.8M268.7,205.0V209.8H292.7V205.0M278.7,209.8V215.4H298.0V196.0M264.7,218.5V226.9H336.2V207.0M386.0,212.9V224.7H517.0V220.0M364.2,207.0V212.9H406.2V207.3M407.8,204.0V207.3H440.5V204.0M472.4,206.7V220.0H561.7V216.0M529.0,211.6V216.0H593.8V211.6M573.6,207.0V211.6H628.0V208.5M599.4,205.0V208.5H646.7V205.0M464.7,203.0V206.7H489.6V203.0M520.7,205.0V211.6H540.0V193.0M130.0,204.0V207.5H152.0V204.0M150.0,207.5V210.0H180.0V206.0M200.0,205.0V208.0H215.0V205.0M305.0,204.0V207.0H322.0V204.0M322.0,207.0V210.0H347.0V205.0M350.0,204.0V207.0H372.0V204.0M420.0,204.0V209.0H455.0V204.0M545.0,205.0V208.0H565.0V205.0M610.0,205.0V207.5H632.0V205.0" fill="none" stroke="#858585" stroke-width="0.65"/>
<path d="M60.4,310.2V487.5M84.5,310.2V487.5M109.3,310.2V487.5M133.6,310.2V487.5M157.9,310.2V487.5M182.6,310.2V487.5M207.3,310.2V487.5M54.4,316.2H213.5M54.4,357.5H213.5M54.4,399.0H213.5M54.4,440.2H213.5" stroke="#d4d4d4" stroke-width="1" fill="none" shape-rendering="crispEdges"/>
<g fill="#c9c9c9" stroke="#9c9c9c" stroke-width="0.7">
<rect x="120.1" y="432.3" width="4" height="4"/>
<rect x="106.5" y="445.8" width="4" height="4"/>
<rect x="112.3" y="446.0" width="4" height="4"/>
<rect x="114.7" y="432.1" width="4" height="4"/>
<rect x="124.2" y="457.7" width="4" height="4"/>
<rect x="115.1" y="451.5" width="4" height="4"/>
<rect x="139.3" y="465.1" width="4" height="4"/>
<rect x="127.0" y="434.7" width="4" height="4"/>
<rect x="140.2" y="429.2" width="4" height="4"/>
<rect x="133.8" y="431.3" width="4" height="4"/>
<rect x="113.4" y="441.7" width="4" height="4"/>
<rect x="141.5" y="463.1" width="4" height="4"/>
<rect x="142.7" y="450.2" width="4" height="4"/>
<rect x="124.5" y="442.0" width="4" height="4"/>
<rect x="135.4" y="447.3" width="4" height="4"/>
<rect x="144.1" y="460.4" width="4" height="4"/>
<rect x="108.3" y="437.4" width="4" height="4"/>
<rect x="142.7" y="452.0" width="4" height="4"/>
<rect x="114.2" y="441.5" width="4" height="4"/>
<rect x="140.0" y="434.9" width="4" height="4"/>
<rect x="141.5" y="466.5" width="4" height="4"/>
<rect x="135.7" y="454.1" width="4" height="4"/>
<rect x="122.8" y="464.4" width="4" height="4"/>
<rect x="108.6" y="433.3" width="4" height="4"/>
<rect x="137.9" y="454.7" width="4" height="4"/>
<rect x="132.2" y="468.5" width="4" height="4"/>
<rect x="121.7" y="429.2" width="4" height="4"/>
<rect x="119.8" y="447.3" width="4" height="4"/>
<rect x="127.0" y="439.0" width="4" height="4"/>
<rect x="123.4" y="429.9" width="4" height="4"/>
<rect x="124.7" y="448.3" width="4" height="4"/>
<rect x="128.5" y="460.5" width="4" height="4"/>
<rect x="129.6" y="476.9" width="4" height="4"/>
<rect x="146.9" y="441.7" width="4" height="4"/>
<rect x="136.9" y="446.5" width="4" height="4"/>
<rect x="113.3" y="450.8" width="4" height="4"/>
<rect x="144.7" y="440.6" width="4" height="4"/>
<rect x="127.9" y="453.2" width="4" height="4"/>
<rect x="118.7" y="434.7" width="4" height="4"/>
<rect x="132.6" y="456.9" width="4" height="4"/>
<rect x="141.7" y="435.2" width="4" height="4"/>
<rect x="140.5" y="451.3" width="4" height="4"/>
<rect x="131.9" y="471.5" width="4" height="4"/>
<rect x="138.7" y="464.5" width="4" height="4"/>
<rect x="106.7" y="434.4" width="4" height="4"/>
<rect x="117.8" y="429.1" width="4" height="4"/>
<rect x="135.6" y="448.5" width="4" height="4"/>
<rect x="124.6" y="458.5" width="4" height="4"/>
<rect x="142.7" y="447.0" width="4" height="4"/>
<rect x="144.8" y="435.9" width="4" height="4"/>
<rect x="109.0" y="448.1" width="4" height="4"/>
<rect x="138.3" y="472.0" width="4" height="4"/>
<rect x="119.7" y="463.1" width="4" height="4"/>
<rect x="131.0" y="461.6" width="4" height="4"/>
<rect x="118.4" y="456.9" width="4" height="4"/>
<rect x="120.5" y="433.4" width="4" height="4"/>
<rect x="132.9" y="436.2" width="4" height="4"/>
<rect x="128.9" y="448.8" width="4" height="4"/>
<rect x="139.0" y="458.7" width="4" height="4"/>
<rect x="114.5" y="459.7" width="4" height="4"/>
<rect x="116.7" y="450.9" width="4" height="4"/>
<rect x="143.8" y="448.6" width="4" height="4"/>
<rect x="146.4" y="428.9" width="4" height="4"/>
<rect x="145.4" y="431.2" width="4" height="4"/>
<rect x="120.4" y="443.2" width="4" height="4"/>
<rect x="119.1" y="429.7" width="4" height="4"/>
<rect x="140.1" y="450.7" width="4" height="4"/>
<rect x="120.4" y="428.2" width="4" height="4"/>
<rect x="113.6" y="454.0" width="4" height="4"/>
<rect x="138.6" y="444.2" width="4" height="4"/>
<rect x="139.3" y="454.1" width="4" height="4"/>
<rect x="116.3" y="438.1" width="4" height="4"/>
<rect x="137.4" y="449.3" width="4" height="4"/>
<rect x="116.1" y="434.6" width="4" height="4"/>
<rect x="144.3" y="439.4" width="4" height="4"/>
<rect x="109.1" y="440.1" width="4" height="4"/>
<rect x="131.6" y="438.3" width="4" height="4"/>
<rect x="123.0" y="449.6" width="4" height="4"/>
<rect x="120.7" y="454.9" width="4" height="4"/>
<rect x="123.8" y="446.2" width="4" height="4"/>
<rect x="128.5" y="465.4" width="4" height="4"/>
<rect x="121.6" y="440.6" width="4" height="4"/>
<rect x="118.6" y="441.4" width="4" height="4"/>
<rect x="139.7" y="433.1" width="4" height="4"/>
<rect x="116.4" y="444.7" width="4" height="4"/>
<rect x="133.2" y="440.7" width="4" height="4"/>
<rect x="132.4" y="448.1" width="4" height="4"/>
<rect x="135.2" y="432.7" width="4" height="4"/>
<rect x="114.9" y="442.9" width="4" height="4"/>
<rect x="113.1" y="428.5" width="4" height="4"/>
<rect x="122.1" y="458.1" width="4" height="4"/>
<rect x="114.2" y="434.1" width="4" height="4"/>
<rect x="130.9" y="478.5" width="4" height="4"/>
<rect x="143.3" y="449.1" width="4" height="4"/>
<rect x="134.8" y="430.1" width="4" height="4"/>
<rect x="126.5" y="451.0" width="4" height="4"/>
<rect x="147.6" y="440.6" width="4" height="4"/>
<rect x="114.6" y="445.6" width="4" height="4"/>
<rect x="143.8" y="460.7" width="4" height="4"/>
<rect x="134.8" y="472.7" width="4" height="4"/>
<rect x="122.3" y="462.7" width="4" height="4"/>
<rect x="121.5" y="427.9" width="4" height="4"/>
<rect x="125.1" y="459.8" width="4" height="4"/>
<rect x="105.3" y="441.0" width="4" height="4"/>
<rect x="134.5" y="463.4" width="4" height="4"/>
<rect x="135.0" y="457.1" width="4" height="4"/>
<rect x="122.3" y="446.4" width="4" height="4"/>
<rect x="111.3" y="444.4" width="4" height="4"/>
<rect x="134.2" y="444.4" width="4" height="4"/>
<rect x="118.9" y="447.4" width="4" height="4"/>
<rect x="115.4" y="446.0" width="4" height="4"/>
<rect x="122.5" y="438.2" width="4" height="4"/>
<rect x="146.0" y="445.0" width="4" height="4"/>
<rect x="138.4" y="438.0" width="4" height="4"/>
<rect x="114.7" y="464.6" width="4" height="4"/>
<rect x="131.1" y="454.7" width="4" height="4"/>
<rect x="130.7" y="454.5" width="4" height="4"/>
<rect x="132.9" y="472.3" width="4" height="4"/>
<rect x="123.1" y="436.5" width="4" height="4"/>
<rect x="125.6" y="461.9" width="4" height="4"/>
<rect x="108.8" y="436.3" width="4" height="4"/>
<rect x="113.1" y="430.3" width="4" height="4"/>
<rect x="134.0" y="449.5" width="4" height="4"/>
<rect x="123.5" y="447.6" width="4" height="4"/>
<rect x="114.3" y="433.6" width="4" height="4"/>
<rect x="128.6" y="473.6" width="4" height="4"/>
<rect x="125.0" y="469.2" width="4" height="4"/>
<rect x="141.6" y="439.7" width="4" height="4"/>
<rect x="123.6" y="440.0" width="4" height="4"/>
<rect x="122.9" y="427.7" width="4" height="4"/>
<rect x="132.3" y="443.3" width="4" height="4"/>
<rect x="126.8" y="431.4" width="4" height="4"/>
<rect x="114.4" y="452.5" width="4" height="4"/>
<rect x="134.2" y="440.8" width="4" height="4"/>
<rect x="143.8" y="440.4" width="4" height="4"/>
<rect x="145.0" y="439.8" width="4" height="4"/>
<rect x="124.1" y="459.3" width="4" height="4"/>
<rect x="143.6" y="448.2" width="4" height="4"/>
<rect x="126.8" y="430.3" width="4" height="4"/>
<rect x="110.7" y="430.8" width="4" height="4"/>
<rect x="133.8" y="427.6" width="4" height="4"/>
<rect x="138.1" y="444.5" width="4" height="4"/>
<rect x="121.7" y="431.1" width="4" height="4"/>
<rect x="101.8" y="436.2" width="4" height="4"/>
<rect x="138.4" y="459.6" width="4" height="4"/>
<rect x="116.3" y="457.0" width="4" height="4"/>
<rect x="123.8" y="440.1" width="4" height="4"/>
<rect x="117.2" y="434.8" width="4" height="4"/>
<rect x="137.8" y="445.2" width="4" height="4"/>
<rect x="137.4" y="465.5" width="4" height="4"/>
<rect x="127.0" y="469.2" width="4" height="4"/>
<rect x="114.8" y="461.5" width="4" height="4"/>
<rect x="132.7" y="477.0" width="4" height="4"/>
<rect x="137.5" y="431.9" width="4" height="4"/>
<rect x="137.0" y="453.5" width="4" height="4"/>
<rect x="116.5" y="459.1" width="4" height="4"/>
<rect x="120.2" y="428.4" width="4" height="4"/>
<rect x="119.5" y="449.3" width="4" height="4"/>
<rect x="137.9" y="439.4" width="4" height="4"/>
<rect x="114.4" y="438.7" width="4" height="4"/>
<rect x="145.4" y="439.1" width="4" height="4"/>
<rect x="133.4" y="438.6" width="4" height="4"/>
<rect x="148.5" y="441.9" width="4" height="4"/>
<rect x="131.2" y="463.6" width="4" height="4"/>
<rect x="140.4" y="448.7" width="4" height="4"/>
<rect x="114.0" y="440.9" width="4" height="4"/>
<rect x="147.2" y="428.8" width="4" height="4"/>
<rect x="140.6" y="461.1" width="4" height="4"/>
<rect x="140.3" y="457.8" width="4" height="4"/>
<rect x="131.4" y="462.5" width="4" height="4"/>
<rect x="129.7" y="477.5" width="4" height="4"/>
<rect x="135.0" y="440.7" width="4" height="4"/>
<rect x="130.2" y="474.8" width="4" height="4"/>
<rect x="131.7" y="454.3" width="4" height="4"/>
<rect x="116.6" y="464.2" width="4" height="4"/>
<rect x="133.1" y="444.6" width="4" height="4"/>
<rect x="134.6" y="450.7" width="4" height="4"/>
<rect x="123.8" y="450.0" width="4" height="4"/>
<rect x="131.6" y="475.7" width="4" height="4"/>
<rect x="103.8" y="444.4" width="4" height="4"/>
<rect x="112.4" y="437.7" width="4" height="4"/>
<rect x="127.6" y="444.7" width="4" height="4"/>
<rect x="141.2" y="451.3" width="4" height="4"/>
<rect x="131.5" y="456.6" width="4" height="4"/>
<rect x="134.0" y="465.4" width="4" height="4"/>
<rect x="111.1" y="435.3" width="4" height="4"/>
<rect x="122.5" y="465.4" width="4" height="4"/>
<rect x="125.1" y="436.9" width="4" height="4"/>
<rect x="145.4" y="429.6" width="4" height="4"/>
<rect x="141.2" y="447.7" width="4" height="4"/>
<rect x="130.0" y="472.6" width="4" height="4"/>
<rect x="126.3" y="447.2" width="4" height="4"/>
<rect x="115.5" y="454.6" width="4" height="4"/>
<rect x="115.8" y="442.4" width="4" height="4"/>
<rect x="138.1" y="461.2" width="4" height="4"/>
<rect x="128.8" y="474.8" width="4" height="4"/>
<rect x="146.2" y="456.4" width="4" height="4"/>
<rect x="147.4" y="443.6" width="4" height="4"/>
<rect x="145.2" y="452.2" width="4" height="4"/>
<rect x="138.3" y="465.4" width="4" height="4"/>
<rect x="146.0" y="452.9" width="4" height="4"/>
<rect x="125.9" y="432.1" width="4" height="4"/>
<rect x="144.6" y="431.0" width="4" height="4"/>
<rect x="141.7" y="453.9" width="4" height="4"/>
<rect x="130.2" y="467.1" width="4" height="4"/>
<rect x="129.0" y="467.2" width="4" height="4"/>
<rect x="129.3" y="435.3" width="4" height="4"/>
<rect x="128.9" y="473.1" width="4" height="4"/>
<rect x="134.7" y="457.1" width="4" height="4"/>
<rect x="123.2" y="467.5" width="4" height="4"/>
<rect x="124.4" y="470.2" width="4" height="4"/>
<rect x="134.7" y="435.4" width="4" height="4"/>
<rect x="133.7" y="449.1" width="4" height="4"/>
<rect x="122.9" y="443.9" width="4" height="4"/>
<rect x="133.2" y="435.4" width="4" height="4"/>
<rect x="130.4" y="438.2" width="4" height="4"/>
<rect x="125.6" y="468.8" width="4" height="4"/>
<rect x="109.3" y="430.3" width="4" height="4"/>
<rect x="141.1" y="451.7" width="4" height="4"/>
<rect x="126.0" y="430.7" width="4" height="4"/>
<rect x="145.7" y="446.2" width="4" height="4"/>
<rect x="141.4" y="461.5" width="4" height="4"/>
<rect x="118.1" y="450.8" width="4" height="4"/>
<rect x="120.1" y="451.8" width="4" height="4"/>
<rect x="132.2" y="474.4" width="4" height="4"/>
<rect x="129.7" y="439.4" width="4" height="4"/>
<rect x="138.2" y="430.9" width="4" height="4"/>
<rect x="134.8" y="460.6" width="4" height="4"/>
<rect x="148.9" y="446.8" width="4" height="4"/>
<rect x="146.0" y="457.0" width="4" height="4"/>
<rect x="137.6" y="429.5" width="4" height="4"/>
<rect x="141.8" y="447.4" width="4" height="4"/>
<rect x="145.2" y="447.8" width="4" height="4"/>
<rect x="115.3" y="445.9" width="4" height="4"/>
<rect x="104.6" y="433.0" width="4" height="4"/>
<rect x="115.6" y="458.2" width="4" height="4"/>
<rect x="122.3" y="461.7" width="4" height="4"/>
<rect x="116.7" y="441.1" width="4" height="4"/>
<rect x="138.1" y="431.5" width="4" height="4"/>
<rect x="129.2" y="478.9" width="4" height="4"/>
<rect x="135.4" y="439.5" width="4" height="4"/>
<rect x="129.0" y="447.6" width="4" height="4"/>
<rect x="141.4" y="428.5" width="4" height="4"/>
<rect x="138.6" y="450.9" width="4" height="4"/>
<rect x="133.0" y="466.8" width="4" height="4"/>
<rect x="144.4" y="430.2" width="4" height="4"/>
<rect x="129.7" y="455.8" width="4" height="4"/>
<rect x="114.6" y="462.9" width="4" height="4"/>
<rect x="125.3" y="437.8" width="4" height="4"/>
<rect x="111.5" y="438.3" width="4" height="4"/>
<rect x="125.3" y="444.6" width="4" height="4"/>
<rect x="116.3" y="440.4" width="4" height="4"/>
<rect x="134.1" y="430.9" width="4" height="4"/>
<rect x="144.1" y="431.0" width="4" height="4"/>
<rect x="121.3" y="433.3" width="4" height="4"/>
<rect x="131.3" y="454.8" width="4" height="4"/>
<rect x="117.1" y="434.9" width="4" height="4"/>
<rect x="111.9" y="437.7" width="4" height="4"/>
<rect x="117.9" y="460.2" width="4" height="4"/>
<rect x="139.9" y="439.5" width="4" height="4"/>
<rect x="126.0" y="470.4" width="4" height="4"/>
<rect x="130.4" y="475.5" width="4" height="4"/>
<rect x="133.2" y="470.3" width="4" height="4"/>
<rect x="127.9" y="431.6" width="4" height="4"/>
<rect x="135.5" y="440.3" width="4" height="4"/>
<rect x="140.7" y="467.2" width="4" height="4"/>
<rect x="134.8" y="438.2" width="4" height="4"/>
<rect x="115.6" y="459.3" width="4" height="4"/>
<rect x="120.8" y="427.6" width="4" height="4"/>
<rect x="133.3" y="459.8" width="4" height="4"/>
<rect x="136.0" y="471.0" width="4" height="4"/>
<rect x="127.5" y="427.0" width="4" height="4"/>
<rect x="126.2" y="470.7" width="4" height="4"/>
<rect x="136.2" y="431.3" width="4" height="4"/>
<rect x="137.0" y="446.4" width="4" height="4"/>
<rect x="126.7" y="437.7" width="4" height="4"/>
<rect x="138.4" y="442.6" width="4" height="4"/>
<rect x="149.5" y="448.0" width="4" height="4"/>
<rect x="127.7" y="439.1" width="4" height="4"/>
<rect x="115.4" y="436.4" width="4" height="4"/>
<rect x="104.5" y="438.9" width="4" height="4"/>
<rect x="108.9" y="433.8" width="4" height="4"/>
<rect x="134.1" y="473.5" width="4" height="4"/>
<rect x="105.3" y="436.7" width="4" height="4"/>
<rect x="135.8" y="472.5" width="4" height="4"/>
<rect x="132.3" y="453.9" width="4" height="4"/>
<rect x="117.9" y="466.8" width="4" height="4"/>
<rect x="114.1" y="427.9" width="4" height="4"/>
<rect x="146.3" y="440.2" width="4" height="4"/>
<rect x="136.6" y="453.3" width="4" height="4"/>
<rect x="136.3" y="357.0" width="4" height="4"/>
<rect x="137.0" y="372.2" width="4" height="4"/>
<rect x="137.0" y="377.9" width="4" height="4"/>
<rect x="136.3" y="389.5" width="4" height="4"/>
<rect x="130.1" y="397.4" width="4" height="4"/>
<rect x="136.3" y="403.9" width="4" height="4"/>
<rect x="127.3" y="411.1" width="4" height="4"/>
<rect x="134.5" y="411.1" width="4" height="4"/>
<rect x="132.7" y="416.5" width="4" height="4"/>
<rect x="129.1" y="420.1" width="4" height="4"/>
<rect x="136.3" y="420.1" width="4" height="4"/>
<rect x="94.1" y="426.6" width="4" height="4"/>
<rect x="103.8" y="430.2" width="4" height="4"/>
<rect x="107.4" y="428.0" width="4" height="4"/>
<rect x="153.2" y="429.1" width="4" height="4"/>
<rect x="149.9" y="427.3" width="4" height="4"/>
<rect x="97.7" y="437.0" width="4" height="4"/>
<rect x="101.3" y="438.4" width="4" height="4"/>
<rect x="102.8" y="447.8" width="4" height="4"/>
<rect x="105.6" y="450.7" width="4" height="4"/>
<rect x="112.1" y="461.5" width="4" height="4"/>
<rect x="149.9" y="445.3" width="4" height="4"/>
<rect x="150.7" y="454.3" width="4" height="4"/>
<rect x="128.0" y="393.6" width="4" height="4"/>
<rect x="129.8" y="397.8" width="4" height="4"/>
<rect x="136.6" y="391.0" width="4" height="4"/>
<rect x="137.1" y="395.3" width="4" height="4"/>
<rect x="133.2" y="402.1" width="4" height="4"/>
<rect x="134.0" y="406.4" width="4" height="4"/>
<rect x="127.2" y="412.4" width="4" height="4"/>
<rect x="129.8" y="415.8" width="4" height="4"/>
<rect x="135.7" y="411.5" width="4" height="4"/>
<rect x="136.6" y="416.6" width="4" height="4"/>
<rect x="128.9" y="420.1" width="4" height="4"/>
<rect x="134.9" y="420.9" width="4" height="4"/>
<rect x="136.6" y="379.0" width="4" height="4"/>
<rect x="137.1" y="372.2" width="4" height="4"/>
<rect x="135.7" y="357.3" width="4" height="4"/>
</g>
<path d="M127.3,310.2V487.5M140.4,310.2V487.5M54.4,427.3H213.5" stroke="#48a848" stroke-width="1" fill="none" shape-rendering="crispEdges"/>
<g fill="#ea0000" stroke="#c80000" stroke-width="0.6">
<rect x="80.9" y="323.7" width="4.4" height="4.4"/>
<rect x="140.7" y="314.3" width="4.4" height="4.4"/>
<rect x="146.1" y="319.7" width="4.4" height="4.4"/>
<rect x="142.9" y="325.5" width="4.4" height="4.4"/>
<rect x="144.3" y="335.9" width="4.4" height="4.4"/>
<rect x="79.1" y="408.7" width="4.4" height="4.4"/>
<rect x="121.5" y="346.0" width="4.4" height="4.4"/>
<rect x="115.9" y="356.1" width="4.4" height="4.4"/>
<rect x="114.2" y="364.3" width="4.4" height="4.4"/>
<rect x="121.9" y="368.6" width="4.4" height="4.4"/>
<rect x="119.3" y="371.1" width="4.4" height="4.4"/>
<rect x="117.6" y="374.0" width="4.4" height="4.4"/>
<rect x="114.7" y="379.7" width="4.4" height="4.4"/>
<rect x="125.3" y="383.4" width="4.4" height="4.4"/>
<rect x="117.2" y="384.8" width="4.4" height="4.4"/>
<rect x="124.4" y="393.9" width="4.4" height="4.4"/>
<rect x="121.0" y="397.6" width="4.4" height="4.4"/>
<rect x="115.9" y="401.0" width="4.4" height="4.4"/>
<rect x="106.8" y="403.6" width="4.4" height="4.4"/>
<rect x="118.4" y="403.6" width="4.4" height="4.4"/>
<rect x="124.4" y="397.6" width="4.4" height="4.4"/>
<rect x="122.7" y="406.2" width="4.4" height="4.4"/>
<rect x="121.5" y="410.4" width="4.4" height="4.4"/>
<rect x="106.8" y="417.3" width="4.4" height="4.4"/>
<rect x="115.9" y="418.1" width="4.4" height="4.4"/>
<rect x="114.7" y="420.7" width="4.4" height="4.4"/>
<rect x="123.2" y="418.1" width="4.4" height="4.4"/>
<rect x="124.4" y="421.6" width="4.4" height="4.4"/>
<rect x="123.6" y="413.0" width="4.4" height="4.4"/>
<rect x="144.1" y="338.7" width="4.4" height="4.4"/>
<rect x="144.9" y="344.3" width="4.4" height="4.4"/>
<rect x="142.7" y="350.1" width="4.4" height="4.4"/>
<rect x="146.6" y="359.2" width="4.4" height="4.4"/>
<rect x="144.1" y="361.7" width="4.4" height="4.4"/>
<rect x="142.4" y="365.2" width="4.4" height="4.4"/>
<rect x="143.6" y="368.9" width="4.4" height="4.4"/>
<rect x="143.2" y="372.0" width="4.4" height="4.4"/>
<rect x="139.8" y="378.8" width="4.4" height="4.4"/>
<rect x="143.2" y="378.0" width="4.4" height="4.4"/>
<rect x="147.5" y="377.5" width="4.4" height="4.4"/>
<rect x="151.8" y="378.8" width="4.4" height="4.4"/>
<rect x="141.5" y="381.4" width="4.4" height="4.4"/>
<rect x="145.8" y="382.2" width="4.4" height="4.4"/>
<rect x="152.6" y="381.4" width="4.4" height="4.4"/>
<rect x="140.7" y="384.8" width="4.4" height="4.4"/>
<rect x="144.1" y="385.7" width="4.4" height="4.4"/>
<rect x="149.2" y="384.8" width="4.4" height="4.4"/>
<rect x="142.4" y="389.1" width="4.4" height="4.4"/>
<rect x="145.8" y="389.9" width="4.4" height="4.4"/>
<rect x="151.8" y="393.4" width="4.4" height="4.4"/>
<rect x="141.5" y="392.5" width="4.4" height="4.4"/>
<rect x="144.1" y="395.1" width="4.4" height="4.4"/>
<rect x="140.7" y="397.6" width="4.4" height="4.4"/>
<rect x="144.1" y="398.5" width="4.4" height="4.4"/>
<rect x="148.4" y="398.5" width="4.4" height="4.4"/>
<rect x="142.4" y="401.9" width="4.4" height="4.4"/>
<rect x="146.6" y="401.9" width="4.4" height="4.4"/>
<rect x="140.7" y="405.3" width="4.4" height="4.4"/>
<rect x="144.1" y="406.2" width="4.4" height="4.4"/>
<rect x="147.5" y="407.0" width="4.4" height="4.4"/>
<rect x="141.5" y="409.6" width="4.4" height="4.4"/>
<rect x="144.9" y="410.4" width="4.4" height="4.4"/>
<rect x="143.2" y="413.9" width="4.4" height="4.4"/>
<rect x="146.6" y="414.7" width="4.4" height="4.4"/>
<rect x="142.4" y="417.3" width="4.4" height="4.4"/>
<rect x="145.8" y="418.1" width="4.4" height="4.4"/>
<rect x="143.2" y="421.6" width="4.4" height="4.4"/>
<rect x="146.6" y="422.4" width="4.4" height="4.4"/>
<rect x="144.1" y="424.1" width="4.4" height="4.4"/>
</g>
<rect x="54.4" y="310.2" width="159.1" height="177.3" fill="none" stroke="#151515" stroke-width="1.35"/>
<path d="M60.4,487.5v3.6M84.5,487.5v3.6M109.3,487.5v3.6M133.6,487.5v3.6M157.9,487.5v3.6M182.6,487.5v3.6M207.3,487.5v3.6M54.4,316.2h-3.6M54.4,357.5h-3.6M54.4,399.0h-3.6M54.4,440.2h-3.6" stroke="#151515" stroke-width="1.0" fill="none"/>
<g font-family='"Liberation Sans", sans-serif' font-weight="bold" fill="#111" stroke="#111" stroke-width="0.22" font-size="10">
<text transform="translate(132.8,297.0) scale(1,1.06)" text-anchor="middle" font-size="9.9">Control vs HF (125 miRNAs)</text>
<text transform="translate(59.0,502.3) scale(1,1.06)" text-anchor="middle">-3</text>
<text transform="translate(83.1,502.3) scale(1,1.06)" text-anchor="middle">-2</text>
<text transform="translate(107.9,502.3) scale(1,1.06)" text-anchor="middle">-1</text>
<text transform="translate(131.5,502.3) scale(1,1.06)" text-anchor="middle">0</text>
<text transform="translate(155.8,502.3) scale(1,1.06)" text-anchor="middle">1</text>
<text transform="translate(180.5,502.3) scale(1,1.06)" text-anchor="middle">2</text>
<text transform="translate(205.2,502.3) scale(1,1.06)" text-anchor="middle">3</text>
<text transform="translate(47.0,319.1) scale(1,1.06)" text-anchor="end">4</text>
<text transform="translate(47.0,361.3) scale(1,1.06)" text-anchor="end">3</text>
<text transform="translate(47.0,401.6) scale(1,1.06)" text-anchor="end">2</text>
<text transform="translate(47.0,443.0) scale(1,1.06)" text-anchor="end">1</text>
<text transform="translate(15.4,388.0) rotate(-90) scale(1,1.06)" text-anchor="middle">-Log10 (value)</text>
<text transform="translate(123.3,521.0) scale(1,1.06)" text-anchor="middle" font-size="9.7">Log2 (Fold change)</text>
</g>
<path d="M292.3,310.4V487.4M316.5,310.4V487.4M341.0,310.4V487.4M365.6,310.4V487.4M390.4,310.4V487.4M414.9,310.4V487.4M439.7,310.4V487.4M286.6,338.2H445.7M286.6,361.8H445.7M286.6,385.8H445.7M286.6,409.9H445.7M286.6,433.8H445.7M286.6,457.5H445.7" stroke="#d4d4d4" stroke-width="1" fill="none" shape-rendering="crispEdges"/>
<g fill="#c9c9c9" stroke="#9c9c9c" stroke-width="0.7">
<rect x="365.1" y="428.0" width="4" height="4"/>
<rect x="359.1" y="426.1" width="4" height="4"/>
<rect x="367.1" y="459.0" width="4" height="4"/>
<rect x="361.3" y="471.0" width="4" height="4"/>
<rect x="341.9" y="449.3" width="4" height="4"/>
<rect x="366.8" y="454.2" width="4" height="4"/>
<rect x="365.9" y="428.8" width="4" height="4"/>
<rect x="368.7" y="424.5" width="4" height="4"/>
<rect x="345.8" y="440.6" width="4" height="4"/>
<rect x="349.0" y="450.5" width="4" height="4"/>
<rect x="347.3" y="437.8" width="4" height="4"/>
<rect x="365.1" y="426.4" width="4" height="4"/>
<rect x="367.1" y="447.9" width="4" height="4"/>
<rect x="350.3" y="455.2" width="4" height="4"/>
<rect x="371.3" y="442.2" width="4" height="4"/>
<rect x="344.2" y="431.3" width="4" height="4"/>
<rect x="357.6" y="448.4" width="4" height="4"/>
<rect x="373.1" y="448.9" width="4" height="4"/>
<rect x="353.9" y="452.6" width="4" height="4"/>
<rect x="368.5" y="465.1" width="4" height="4"/>
<rect x="358.5" y="439.7" width="4" height="4"/>
<rect x="360.3" y="443.1" width="4" height="4"/>
<rect x="367.3" y="436.6" width="4" height="4"/>
<rect x="341.7" y="452.3" width="4" height="4"/>
<rect x="374.4" y="450.0" width="4" height="4"/>
<rect x="347.1" y="450.6" width="4" height="4"/>
<rect x="349.3" y="457.9" width="4" height="4"/>
<rect x="360.7" y="467.0" width="4" height="4"/>
<rect x="371.0" y="456.0" width="4" height="4"/>
<rect x="367.0" y="465.9" width="4" height="4"/>
<rect x="362.2" y="477.0" width="4" height="4"/>
<rect x="372.0" y="472.4" width="4" height="4"/>
<rect x="379.6" y="439.1" width="4" height="4"/>
<rect x="368.2" y="441.4" width="4" height="4"/>
<rect x="370.0" y="424.0" width="4" height="4"/>
<rect x="368.3" y="428.3" width="4" height="4"/>
<rect x="354.2" y="445.6" width="4" height="4"/>
<rect x="371.4" y="435.8" width="4" height="4"/>
<rect x="380.3" y="437.2" width="4" height="4"/>
<rect x="381.8" y="448.4" width="4" height="4"/>
<rect x="370.3" y="442.9" width="4" height="4"/>
<rect x="356.0" y="427.6" width="4" height="4"/>
<rect x="365.4" y="480.2" width="4" height="4"/>
<rect x="366.1" y="435.6" width="4" height="4"/>
<rect x="352.9" y="433.4" width="4" height="4"/>
<rect x="358.1" y="465.8" width="4" height="4"/>
<rect x="371.0" y="456.7" width="4" height="4"/>
<rect x="379.4" y="431.4" width="4" height="4"/>
<rect x="373.7" y="446.7" width="4" height="4"/>
<rect x="372.7" y="423.2" width="4" height="4"/>
<rect x="351.0" y="450.7" width="4" height="4"/>
<rect x="368.7" y="460.8" width="4" height="4"/>
<rect x="348.2" y="456.5" width="4" height="4"/>
<rect x="345.9" y="435.1" width="4" height="4"/>
<rect x="351.0" y="450.9" width="4" height="4"/>
<rect x="357.2" y="435.7" width="4" height="4"/>
<rect x="350.6" y="432.9" width="4" height="4"/>
<rect x="363.9" y="459.1" width="4" height="4"/>
<rect x="357.5" y="459.4" width="4" height="4"/>
<rect x="368.7" y="433.6" width="4" height="4"/>
<rect x="365.3" y="436.6" width="4" height="4"/>
<rect x="349.0" y="444.4" width="4" height="4"/>
<rect x="359.7" y="427.5" width="4" height="4"/>
<rect x="372.1" y="438.6" width="4" height="4"/>
<rect x="364.6" y="457.8" width="4" height="4"/>
<rect x="367.6" y="442.5" width="4" height="4"/>
<rect x="364.2" y="468.1" width="4" height="4"/>
<rect x="369.8" y="430.2" width="4" height="4"/>
<rect x="352.5" y="452.5" width="4" height="4"/>
<rect x="355.9" y="434.0" width="4" height="4"/>
<rect x="377.9" y="429.9" width="4" height="4"/>
<rect x="357.8" y="453.8" width="4" height="4"/>
<rect x="366.6" y="467.8" width="4" height="4"/>
<rect x="360.1" y="436.2" width="4" height="4"/>
<rect x="365.1" y="429.9" width="4" height="4"/>
<rect x="367.8" y="440.3" width="4" height="4"/>
<rect x="371.2" y="421.5" width="4" height="4"/>
<rect x="359.0" y="473.0" width="4" height="4"/>
<rect x="355.8" y="464.1" width="4" height="4"/>
<rect x="375.1" y="433.9" width="4" height="4"/>
<rect x="353.1" y="431.9" width="4" height="4"/>
<rect x="361.0" y="450.2" width="4" height="4"/>
<rect x="373.7" y="439.1" width="4" height="4"/>
<rect x="364.6" y="427.9" width="4" height="4"/>
<rect x="358.8" y="446.6" width="4" height="4"/>
<rect x="347.9" y="430.5" width="4" height="4"/>
<rect x="371.2" y="435.1" width="4" height="4"/>
<rect x="352.1" y="424.3" width="4" height="4"/>
<rect x="361.1" y="422.6" width="4" height="4"/>
<rect x="364.7" y="473.9" width="4" height="4"/>
<rect x="357.3" y="427.0" width="4" height="4"/>
<rect x="361.0" y="475.9" width="4" height="4"/>
<rect x="348.6" y="441.0" width="4" height="4"/>
<rect x="371.6" y="464.4" width="4" height="4"/>
<rect x="344.3" y="432.1" width="4" height="4"/>
<rect x="370.0" y="433.9" width="4" height="4"/>
<rect x="351.0" y="435.5" width="4" height="4"/>
<rect x="367.1" y="439.8" width="4" height="4"/>
<rect x="370.1" y="436.6" width="4" height="4"/>
<rect x="368.4" y="431.2" width="4" height="4"/>
<rect x="358.9" y="433.5" width="4" height="4"/>
<rect x="349.1" y="438.2" width="4" height="4"/>
<rect x="365.6" y="427.0" width="4" height="4"/>
<rect x="358.4" y="449.2" width="4" height="4"/>
<rect x="364.8" y="432.0" width="4" height="4"/>
<rect x="361.8" y="454.1" width="4" height="4"/>
<rect x="370.7" y="432.2" width="4" height="4"/>
<rect x="368.5" y="445.6" width="4" height="4"/>
<rect x="370.9" y="443.9" width="4" height="4"/>
<rect x="372.1" y="460.7" width="4" height="4"/>
<rect x="361.1" y="468.2" width="4" height="4"/>
<rect x="370.1" y="433.9" width="4" height="4"/>
<rect x="376.5" y="446.0" width="4" height="4"/>
<rect x="351.3" y="434.5" width="4" height="4"/>
<rect x="371.7" y="449.2" width="4" height="4"/>
<rect x="344.0" y="435.7" width="4" height="4"/>
<rect x="371.5" y="462.5" width="4" height="4"/>
<rect x="369.4" y="440.5" width="4" height="4"/>
<rect x="377.4" y="435.1" width="4" height="4"/>
<rect x="375.4" y="457.1" width="4" height="4"/>
<rect x="354.6" y="445.3" width="4" height="4"/>
<rect x="365.6" y="480.9" width="4" height="4"/>
<rect x="369.8" y="451.8" width="4" height="4"/>
<rect x="368.2" y="452.1" width="4" height="4"/>
<rect x="378.3" y="448.5" width="4" height="4"/>
<rect x="360.5" y="472.8" width="4" height="4"/>
<rect x="369.4" y="427.3" width="4" height="4"/>
<rect x="370.3" y="424.0" width="4" height="4"/>
<rect x="350.2" y="423.2" width="4" height="4"/>
<rect x="358.3" y="466.2" width="4" height="4"/>
<rect x="350.3" y="433.6" width="4" height="4"/>
<rect x="349.1" y="446.6" width="4" height="4"/>
<rect x="363.5" y="467.1" width="4" height="4"/>
<rect x="376.6" y="434.6" width="4" height="4"/>
<rect x="365.0" y="450.2" width="4" height="4"/>
<rect x="374.3" y="435.6" width="4" height="4"/>
<rect x="365.6" y="428.6" width="4" height="4"/>
<rect x="372.2" y="424.1" width="4" height="4"/>
<rect x="378.0" y="458.2" width="4" height="4"/>
<rect x="350.8" y="442.3" width="4" height="4"/>
<rect x="360.4" y="430.8" width="4" height="4"/>
<rect x="373.8" y="435.7" width="4" height="4"/>
<rect x="374.6" y="433.9" width="4" height="4"/>
<rect x="374.9" y="450.4" width="4" height="4"/>
<rect x="343.0" y="448.9" width="4" height="4"/>
<rect x="347.0" y="444.2" width="4" height="4"/>
<rect x="375.2" y="455.3" width="4" height="4"/>
<rect x="366.1" y="447.2" width="4" height="4"/>
<rect x="358.7" y="458.2" width="4" height="4"/>
<rect x="375.4" y="449.8" width="4" height="4"/>
<rect x="375.7" y="438.7" width="4" height="4"/>
<rect x="352.1" y="438.3" width="4" height="4"/>
<rect x="356.5" y="446.9" width="4" height="4"/>
<rect x="367.9" y="455.4" width="4" height="4"/>
<rect x="348.7" y="450.3" width="4" height="4"/>
<rect x="371.9" y="449.6" width="4" height="4"/>
<rect x="351.3" y="436.2" width="4" height="4"/>
<rect x="365.8" y="457.4" width="4" height="4"/>
<rect x="347.5" y="438.2" width="4" height="4"/>
<rect x="373.2" y="426.4" width="4" height="4"/>
<rect x="358.9" y="452.1" width="4" height="4"/>
<rect x="361.0" y="478.3" width="4" height="4"/>
<rect x="358.3" y="434.5" width="4" height="4"/>
<rect x="361.2" y="455.9" width="4" height="4"/>
<rect x="354.9" y="451.4" width="4" height="4"/>
<rect x="348.1" y="458.2" width="4" height="4"/>
<rect x="372.1" y="450.1" width="4" height="4"/>
<rect x="372.0" y="426.9" width="4" height="4"/>
<rect x="375.4" y="443.5" width="4" height="4"/>
<rect x="361.8" y="426.4" width="4" height="4"/>
<rect x="356.4" y="427.0" width="4" height="4"/>
<rect x="363.3" y="467.7" width="4" height="4"/>
<rect x="361.5" y="473.6" width="4" height="4"/>
<rect x="364.5" y="439.3" width="4" height="4"/>
<rect x="348.5" y="424.5" width="4" height="4"/>
<rect x="357.9" y="420.4" width="4" height="4"/>
<rect x="370.1" y="426.7" width="4" height="4"/>
<rect x="367.6" y="447.9" width="4" height="4"/>
<rect x="375.3" y="429.3" width="4" height="4"/>
<rect x="356.4" y="439.7" width="4" height="4"/>
<rect x="348.5" y="450.5" width="4" height="4"/>
<rect x="363.8" y="455.3" width="4" height="4"/>
<rect x="376.4" y="451.6" width="4" height="4"/>
<rect x="370.2" y="455.8" width="4" height="4"/>
<rect x="349.3" y="461.7" width="4" height="4"/>
<rect x="357.0" y="440.6" width="4" height="4"/>
<rect x="347.3" y="446.6" width="4" height="4"/>
<rect x="372.6" y="464.6" width="4" height="4"/>
<rect x="365.2" y="478.5" width="4" height="4"/>
<rect x="360.7" y="440.9" width="4" height="4"/>
<rect x="357.4" y="433.8" width="4" height="4"/>
<rect x="371.3" y="457.7" width="4" height="4"/>
<rect x="368.0" y="451.0" width="4" height="4"/>
<rect x="372.5" y="451.5" width="4" height="4"/>
<rect x="360.5" y="478.0" width="4" height="4"/>
<rect x="351.4" y="463.6" width="4" height="4"/>
<rect x="356.3" y="421.9" width="4" height="4"/>
<rect x="376.1" y="426.6" width="4" height="4"/>
<rect x="349.7" y="453.6" width="4" height="4"/>
<rect x="374.1" y="444.8" width="4" height="4"/>
<rect x="345.7" y="440.8" width="4" height="4"/>
<rect x="369.3" y="440.3" width="4" height="4"/>
<rect x="382.7" y="443.5" width="4" height="4"/>
<rect x="365.9" y="420.5" width="4" height="4"/>
<rect x="351.1" y="443.7" width="4" height="4"/>
<rect x="365.0" y="429.4" width="4" height="4"/>
<rect x="369.1" y="444.6" width="4" height="4"/>
<rect x="359.1" y="433.2" width="4" height="4"/>
<rect x="377.5" y="426.4" width="4" height="4"/>
<rect x="368.8" y="471.8" width="4" height="4"/>
<rect x="365.8" y="458.1" width="4" height="4"/>
<rect x="376.9" y="425.3" width="4" height="4"/>
<rect x="357.7" y="454.1" width="4" height="4"/>
<rect x="356.5" y="461.8" width="4" height="4"/>
<rect x="369.0" y="440.7" width="4" height="4"/>
<rect x="376.2" y="434.7" width="4" height="4"/>
<rect x="367.0" y="464.5" width="4" height="4"/>
<rect x="376.7" y="435.7" width="4" height="4"/>
<rect x="358.1" y="421.7" width="4" height="4"/>
<rect x="358.8" y="469.7" width="4" height="4"/>
<rect x="353.7" y="439.5" width="4" height="4"/>
<rect x="378.8" y="426.0" width="4" height="4"/>
<rect x="355.6" y="437.7" width="4" height="4"/>
<rect x="346.3" y="444.8" width="4" height="4"/>
<rect x="359.0" y="463.9" width="4" height="4"/>
<rect x="364.3" y="447.3" width="4" height="4"/>
<rect x="369.1" y="439.0" width="4" height="4"/>
<rect x="361.4" y="468.6" width="4" height="4"/>
<rect x="351.9" y="432.2" width="4" height="4"/>
<rect x="356.9" y="458.0" width="4" height="4"/>
<rect x="366.1" y="427.4" width="4" height="4"/>
<rect x="369.2" y="463.6" width="4" height="4"/>
<rect x="347.3" y="456.5" width="4" height="4"/>
<rect x="377.2" y="453.4" width="4" height="4"/>
<rect x="353.0" y="431.2" width="4" height="4"/>
<rect x="375.3" y="428.8" width="4" height="4"/>
<rect x="348.2" y="452.4" width="4" height="4"/>
<rect x="354.4" y="457.4" width="4" height="4"/>
<rect x="353.0" y="453.5" width="4" height="4"/>
<rect x="349.6" y="428.6" width="4" height="4"/>
<rect x="355.1" y="440.3" width="4" height="4"/>
<rect x="369.6" y="454.3" width="4" height="4"/>
<rect x="365.9" y="455.6" width="4" height="4"/>
<rect x="355.6" y="439.4" width="4" height="4"/>
<rect x="367.3" y="461.8" width="4" height="4"/>
<rect x="348.8" y="432.7" width="4" height="4"/>
<rect x="372.0" y="440.8" width="4" height="4"/>
<rect x="365.6" y="472.2" width="4" height="4"/>
<rect x="371.5" y="454.3" width="4" height="4"/>
<rect x="375.0" y="451.0" width="4" height="4"/>
<rect x="347.2" y="426.6" width="4" height="4"/>
<rect x="368.5" y="430.2" width="4" height="4"/>
<rect x="357.6" y="421.9" width="4" height="4"/>
<rect x="370.4" y="461.6" width="4" height="4"/>
<rect x="346.6" y="449.5" width="4" height="4"/>
<rect x="357.9" y="422.5" width="4" height="4"/>
<rect x="359.0" y="438.2" width="4" height="4"/>
<rect x="371.0" y="431.0" width="4" height="4"/>
<rect x="364.0" y="443.0" width="4" height="4"/>
<rect x="359.6" y="423.0" width="4" height="4"/>
<rect x="351.2" y="421.7" width="4" height="4"/>
<rect x="359.6" y="475.8" width="4" height="4"/>
<rect x="366.7" y="458.5" width="4" height="4"/>
<rect x="361.8" y="477.7" width="4" height="4"/>
<rect x="352.0" y="429.0" width="4" height="4"/>
<rect x="365.4" y="474.0" width="4" height="4"/>
<rect x="359.7" y="452.2" width="4" height="4"/>
<rect x="365.4" y="458.1" width="4" height="4"/>
<rect x="362.8" y="431.2" width="4" height="4"/>
<rect x="371.3" y="456.3" width="4" height="4"/>
<rect x="378.8" y="447.3" width="4" height="4"/>
<rect x="364.3" y="478.2" width="4" height="4"/>
<rect x="356.6" y="457.1" width="4" height="4"/>
<rect x="350.2" y="459.7" width="4" height="4"/>
<rect x="366.1" y="450.5" width="4" height="4"/>
<rect x="371.5" y="456.4" width="4" height="4"/>
<rect x="367.6" y="425.5" width="4" height="4"/>
<rect x="370.5" y="467.5" width="4" height="4"/>
<rect x="379.7" y="430.6" width="4" height="4"/>
<rect x="365.6" y="475.3" width="4" height="4"/>
<rect x="362.8" y="446.6" width="4" height="4"/>
<rect x="351.6" y="439.2" width="4" height="4"/>
<rect x="374.6" y="439.4" width="4" height="4"/>
<rect x="363.1" y="442.0" width="4" height="4"/>
<rect x="349.5" y="447.2" width="4" height="4"/>
<rect x="370.8" y="464.8" width="4" height="4"/>
<rect x="366.2" y="442.8" width="4" height="4"/>
<rect x="345.5" y="453.8" width="4" height="4"/>
<rect x="368.3" y="460.5" width="4" height="4"/>
<rect x="345.0" y="452.1" width="4" height="4"/>
<rect x="365.6" y="445.3" width="4" height="4"/>
<rect x="350.7" y="433.6" width="4" height="4"/>
<rect x="367.6" y="476.9" width="4" height="4"/>
<rect x="363.1" y="426.0" width="4" height="4"/>
<rect x="380.7" y="436.3" width="4" height="4"/>
<rect x="373.6" y="447.5" width="4" height="4"/>
<rect x="363.7" y="469.8" width="4" height="4"/>
<rect x="346.3" y="459.7" width="4" height="4"/>
<rect x="372.0" y="439.4" width="4" height="4"/>
<rect x="366.5" y="422.6" width="4" height="4"/>
<rect x="363.7" y="453.9" width="4" height="4"/>
<rect x="360.5" y="421.3" width="4" height="4"/>
<rect x="364.2" y="423.2" width="4" height="4"/>
<rect x="376.2" y="429.6" width="4" height="4"/>
<rect x="370.4" y="421.5" width="4" height="4"/>
<rect x="358.3" y="434.8" width="4" height="4"/>
<rect x="346.8" y="444.7" width="4" height="4"/>
<rect x="369.6" y="466.2" width="4" height="4"/>
<rect x="370.1" y="471.8" width="4" height="4"/>
<rect x="342.9" y="427.9" width="4" height="4"/>
<rect x="368.3" y="466.1" width="4" height="4"/>
<rect x="373.4" y="440.7" width="4" height="4"/>
<rect x="356.3" y="435.4" width="4" height="4"/>
<rect x="366.6" y="468.8" width="4" height="4"/>
<rect x="368.1" y="465.0" width="4" height="4"/>
<rect x="360.0" y="461.4" width="4" height="4"/>
<rect x="342.6" y="430.4" width="4" height="4"/>
<rect x="355.9" y="428.9" width="4" height="4"/>
<rect x="357.2" y="474.3" width="4" height="4"/>
<rect x="374.0" y="440.4" width="4" height="4"/>
<rect x="366.7" y="465.4" width="4" height="4"/>
<rect x="348.9" y="462.7" width="4" height="4"/>
<rect x="359.2" y="420.5" width="4" height="4"/>
<rect x="351.9" y="434.6" width="4" height="4"/>
<rect x="355.2" y="430.5" width="4" height="4"/>
<rect x="340.2" y="451.4" width="4" height="4"/>
<rect x="368.9" y="452.7" width="4" height="4"/>
<rect x="370.5" y="439.8" width="4" height="4"/>
<rect x="374.6" y="457.1" width="4" height="4"/>
<rect x="363.0" y="446.0" width="4" height="4"/>
<rect x="360.3" y="464.8" width="4" height="4"/>
<rect x="354.4" y="453.2" width="4" height="4"/>
<rect x="363.2" y="448.3" width="4" height="4"/>
<rect x="347.7" y="453.2" width="4" height="4"/>
<rect x="357.2" y="443.7" width="4" height="4"/>
<rect x="367.4" y="420.1" width="4" height="4"/>
<rect x="356.8" y="463.5" width="4" height="4"/>
<rect x="366.4" y="457.3" width="4" height="4"/>
<rect x="352.4" y="421.7" width="4" height="4"/>
<rect x="360.7" y="455.3" width="4" height="4"/>
<rect x="380.1" y="432.0" width="4" height="4"/>
<rect x="358.1" y="468.8" width="4" height="4"/>
<rect x="376.9" y="420.4" width="4" height="4"/>
<rect x="364.2" y="429.8" width="4" height="4"/>
<rect x="366.6" y="457.5" width="4" height="4"/>
<rect x="359.8" y="426.3" width="4" height="4"/>
<rect x="374.7" y="432.8" width="4" height="4"/>
<rect x="369.9" y="442.4" width="4" height="4"/>
<rect x="376.5" y="428.3" width="4" height="4"/>
<rect x="352.1" y="425.0" width="4" height="4"/>
<rect x="369.8" y="434.0" width="4" height="4"/>
<rect x="371.0" y="424.9" width="4" height="4"/>
<rect x="354.0" y="461.7" width="4" height="4"/>
<rect x="365.3" y="439.5" width="4" height="4"/>
<rect x="358.7" y="468.3" width="4" height="4"/>
<rect x="362.4" y="475.6" width="4" height="4"/>
<rect x="357.8" y="457.7" width="4" height="4"/>
<rect x="364.8" y="450.7" width="4" height="4"/>
<rect x="358.6" y="472.0" width="4" height="4"/>
<rect x="340.4" y="432.9" width="4" height="4"/>
<rect x="363.8" y="424.5" width="4" height="4"/>
<rect x="370.1" y="453.9" width="4" height="4"/>
<rect x="370.3" y="437.4" width="4" height="4"/>
<rect x="358.9" y="458.5" width="4" height="4"/>
<rect x="352.7" y="430.4" width="4" height="4"/>
<rect x="354.4" y="463.7" width="4" height="4"/>
<rect x="368.7" y="468.7" width="4" height="4"/>
<rect x="348.8" y="450.7" width="4" height="4"/>
<rect x="368.6" y="459.3" width="4" height="4"/>
<rect x="343.6" y="428.8" width="4" height="4"/>
<rect x="362.6" y="474.0" width="4" height="4"/>
<rect x="357.1" y="472.6" width="4" height="4"/>
<rect x="372.0" y="425.4" width="4" height="4"/>
<rect x="371.6" y="466.0" width="4" height="4"/>
<rect x="369.4" y="436.6" width="4" height="4"/>
<rect x="371.5" y="429.5" width="4" height="4"/>
<rect x="354.8" y="433.8" width="4" height="4"/>
<rect x="363.8" y="471.1" width="4" height="4"/>
<rect x="372.2" y="443.5" width="4" height="4"/>
<rect x="347.4" y="454.0" width="4" height="4"/>
<rect x="369.1" y="327.1" width="4" height="4"/>
<rect x="369.9" y="339.0" width="4" height="4"/>
<rect x="369.9" y="341.5" width="4" height="4"/>
<rect x="358.0" y="357.8" width="4" height="4"/>
<rect x="359.8" y="365.0" width="4" height="4"/>
<rect x="369.9" y="369.6" width="4" height="4"/>
<rect x="360.1" y="380.4" width="4" height="4"/>
<rect x="368.1" y="380.4" width="4" height="4"/>
<rect x="361.6" y="394.9" width="4" height="4"/>
<rect x="367.3" y="403.9" width="4" height="4"/>
<rect x="360.1" y="408.5" width="4" height="4"/>
<rect x="366.3" y="410.3" width="4" height="4"/>
<rect x="359.1" y="412.9" width="4" height="4"/>
<rect x="364.5" y="414.7" width="4" height="4"/>
<rect x="334.6" y="422.6" width="4" height="4"/>
<rect x="340.0" y="422.6" width="4" height="4"/>
<rect x="332.0" y="430.2" width="4" height="4"/>
<rect x="333.1" y="441.0" width="4" height="4"/>
<rect x="333.1" y="445.3" width="4" height="4"/>
<rect x="392.2" y="429.8" width="4" height="4"/>
<rect x="387.9" y="430.9" width="4" height="4"/>
<rect x="388.6" y="438.1" width="4" height="4"/>
<rect x="393.3" y="452.5" width="4" height="4"/>
<rect x="385.3" y="453.6" width="4" height="4"/>
</g>
<path d="M359.7,310.4V487.4M372.3,310.4V487.4M286.6,419.5H445.7" stroke="#48a848" stroke-width="1" fill="none" shape-rendering="crispEdges"/>
<g fill="#ea0000" stroke="#c80000" stroke-width="0.6">
<rect x="338.0" y="319.0" width="4.4" height="4.4"/>
<rect x="354.5" y="316.1" width="4.4" height="4.4"/>
<rect x="375.8" y="313.6" width="4.4" height="4.4"/>
<rect x="352.4" y="343.9" width="4.4" height="4.4"/>
<rect x="374.0" y="346.0" width="4.4" height="4.4"/>
<rect x="356.0" y="353.2" width="4.4" height="4.4"/>
<rect x="309.5" y="401.9" width="4.4" height="4.4"/>
<rect x="321.0" y="412.7" width="4.4" height="4.4"/>
<rect x="382.3" y="360.5" width="4.4" height="4.4"/>
<rect x="377.0" y="373.1" width="4.4" height="4.4"/>
<rect x="371.7" y="375.7" width="4.4" height="4.4"/>
<rect x="373.6" y="377.7" width="4.4" height="4.4"/>
<rect x="379.0" y="379.1" width="4.4" height="4.4"/>
<rect x="382.9" y="379.7" width="4.4" height="4.4"/>
<rect x="386.9" y="379.1" width="4.4" height="4.4"/>
<rect x="371.7" y="382.4" width="4.4" height="4.4"/>
<rect x="375.0" y="382.4" width="4.4" height="4.4"/>
<rect x="379.0" y="383.0" width="4.4" height="4.4"/>
<rect x="382.9" y="383.7" width="4.4" height="4.4"/>
<rect x="373.6" y="386.4" width="4.4" height="4.4"/>
<rect x="377.6" y="387.0" width="4.4" height="4.4"/>
<rect x="381.6" y="387.7" width="4.4" height="4.4"/>
<rect x="385.6" y="386.4" width="4.4" height="4.4"/>
<rect x="389.9" y="389.7" width="4.4" height="4.4"/>
<rect x="371.7" y="390.4" width="4.4" height="4.4"/>
<rect x="375.0" y="391.0" width="4.4" height="4.4"/>
<rect x="379.0" y="391.7" width="4.4" height="4.4"/>
<rect x="382.3" y="392.4" width="4.4" height="4.4"/>
<rect x="371.7" y="394.3" width="4.4" height="4.4"/>
<rect x="375.6" y="395.0" width="4.4" height="4.4"/>
<rect x="379.6" y="395.7" width="4.4" height="4.4"/>
<rect x="373.6" y="397.7" width="4.4" height="4.4"/>
<rect x="377.6" y="398.3" width="4.4" height="4.4"/>
<rect x="381.0" y="399.0" width="4.4" height="4.4"/>
<rect x="386.0" y="399.7" width="4.4" height="4.4"/>
<rect x="371.7" y="401.7" width="4.4" height="4.4"/>
<rect x="375.0" y="402.3" width="4.4" height="4.4"/>
<rect x="379.0" y="403.0" width="4.4" height="4.4"/>
<rect x="382.9" y="403.6" width="4.4" height="4.4"/>
<rect x="374.3" y="406.3" width="4.4" height="4.4"/>
<rect x="378.3" y="407.0" width="4.4" height="4.4"/>
<rect x="381.6" y="407.6" width="4.4" height="4.4"/>
<rect x="372.3" y="409.0" width="4.4" height="4.4"/>
<rect x="376.3" y="410.3" width="4.4" height="4.4"/>
<rect x="380.3" y="411.0" width="4.4" height="4.4"/>
<rect x="374.3" y="413.6" width="4.4" height="4.4"/>
<rect x="378.3" y="414.3" width="4.4" height="4.4"/>
<rect x="376.3" y="416.9" width="4.4" height="4.4"/>
<rect x="379.6" y="416.3" width="4.4" height="4.4"/>
<rect x="347.1" y="365.1" width="4.4" height="4.4"/>
<rect x="355.0" y="361.8" width="4.4" height="4.4"/>
<rect x="355.3" y="367.1" width="4.4" height="4.4"/>
<rect x="338.4" y="376.7" width="4.4" height="4.4"/>
<rect x="355.0" y="374.8" width="4.4" height="4.4"/>
<rect x="351.1" y="384.0" width="4.4" height="4.4"/>
<rect x="346.4" y="393.0" width="4.4" height="4.4"/>
<rect x="350.4" y="390.4" width="4.4" height="4.4"/>
<rect x="353.7" y="389.7" width="4.4" height="4.4"/>
<rect x="355.0" y="393.0" width="4.4" height="4.4"/>
<rect x="353.0" y="396.3" width="4.4" height="4.4"/>
<rect x="354.4" y="399.0" width="4.4" height="4.4"/>
<rect x="339.8" y="401.0" width="4.4" height="4.4"/>
<rect x="352.4" y="408.3" width="4.4" height="4.4"/>
<rect x="355.0" y="409.0" width="4.4" height="4.4"/>
<rect x="353.7" y="412.3" width="4.4" height="4.4"/>
<rect x="352.4" y="416.3" width="4.4" height="4.4"/>
<rect x="354.4" y="414.9" width="4.4" height="4.4"/>
</g>
<rect x="286.6" y="310.4" width="159.1" height="177.0" fill="none" stroke="#151515" stroke-width="1.35"/>
<path d="M292.3,487.4v3.6M316.5,487.4v3.6M341.0,487.4v3.6M365.6,487.4v3.6M390.4,487.4v3.6M414.9,487.4v3.6M439.7,487.4v3.6M286.6,338.2h-3.6M286.6,361.8h-3.6M286.6,385.8h-3.6M286.6,409.9h-3.6M286.6,433.8h-3.6M286.6,457.5h-3.6" stroke="#151515" stroke-width="1.0" fill="none"/>
<g font-family='"Liberation Sans", sans-serif' font-weight="bold" fill="#111" stroke="#111" stroke-width="0.22" font-size="10">
<text transform="translate(366.3,297.3) scale(1,1.06)" text-anchor="middle" font-size="9.9">Control vs HF-R (95 miRNAs)</text>
<text transform="translate(290.9,502.3) scale(1,1.06)" text-anchor="middle">-3</text>
<text transform="translate(315.1,502.3) scale(1,1.06)" text-anchor="middle">-2</text>
<text transform="translate(339.6,502.3) scale(1,1.06)" text-anchor="middle">-1</text>
<text transform="translate(363.5,502.3) scale(1,1.06)" text-anchor="middle">0</text>
<text transform="translate(388.3,502.3) scale(1,1.06)" text-anchor="middle">1</text>
<text transform="translate(412.8,502.3) scale(1,1.06)" text-anchor="middle">2</text>
<text transform="translate(437.6,502.3) scale(1,1.06)" text-anchor="middle">3</text>
<text transform="translate(279.4,341.6) scale(1,1.06)" text-anchor="end">3</text>
<text transform="translate(279.4,365.2) scale(1,1.06)" text-anchor="end">2.5</text>
<text transform="translate(279.4,388.7) scale(1,1.06)" text-anchor="end">2</text>
<text transform="translate(279.4,413.5) scale(1,1.06)" text-anchor="end">1.5</text>
<text transform="translate(279.4,434.9) scale(1,1.06)" text-anchor="end">1</text>
<text transform="translate(279.4,460.9) scale(1,1.06)" text-anchor="end">0.5</text>
<text transform="translate(242.4,387.3) rotate(-90) scale(1,1.06)" text-anchor="middle">-Log10 (value)</text>
<text transform="translate(354.7,521.0) scale(1,1.06)" text-anchor="middle" font-size="9.7">Log2 (Fold change)</text>
</g>
<path d="M520.3,311.4V488.6M556.3,311.4V488.6M592.6,311.4V488.6M629.1,311.4V488.6M665.9,311.4V488.6M513.9,337.4H671.7M513.9,361.0H671.7M513.9,385.3H671.7M513.9,409.9H671.7M513.9,434.3H671.7M513.9,458.0H671.7" stroke="#d4d4d4" stroke-width="1" fill="none" shape-rendering="crispEdges"/>
<g fill="#c9c9c9" stroke="#9c9c9c" stroke-width="0.7">
<rect x="594.2" y="475.2" width="4" height="4"/>
<rect x="602.9" y="452.3" width="4" height="4"/>
<rect x="585.1" y="463.2" width="4" height="4"/>
<rect x="593.3" y="476.4" width="4" height="4"/>
<rect x="594.6" y="432.5" width="4" height="4"/>
<rect x="592.3" y="470.8" width="4" height="4"/>
<rect x="596.1" y="475.4" width="4" height="4"/>
<rect x="597.4" y="437.4" width="4" height="4"/>
<rect x="588.5" y="463.3" width="4" height="4"/>
<rect x="583.1" y="461.4" width="4" height="4"/>
<rect x="585.7" y="463.9" width="4" height="4"/>
<rect x="593.3" y="434.4" width="4" height="4"/>
<rect x="596.8" y="445.5" width="4" height="4"/>
<rect x="591.8" y="478.3" width="4" height="4"/>
<rect x="597.2" y="468.1" width="4" height="4"/>
<rect x="598.7" y="435.8" width="4" height="4"/>
<rect x="599.5" y="457.9" width="4" height="4"/>
<rect x="594.0" y="461.0" width="4" height="4"/>
<rect x="584.5" y="448.6" width="4" height="4"/>
<rect x="582.5" y="439.1" width="4" height="4"/>
<rect x="589.6" y="467.3" width="4" height="4"/>
<rect x="584.6" y="467.7" width="4" height="4"/>
<rect x="600.3" y="429.3" width="4" height="4"/>
<rect x="589.3" y="453.4" width="4" height="4"/>
<rect x="598.9" y="420.8" width="4" height="4"/>
<rect x="601.0" y="462.4" width="4" height="4"/>
<rect x="597.5" y="422.6" width="4" height="4"/>
<rect x="582.2" y="455.0" width="4" height="4"/>
<rect x="600.8" y="452.2" width="4" height="4"/>
<rect x="593.3" y="473.8" width="4" height="4"/>
<rect x="582.8" y="432.5" width="4" height="4"/>
<rect x="607.1" y="450.4" width="4" height="4"/>
<rect x="590.5" y="481.6" width="4" height="4"/>
<rect x="601.9" y="458.7" width="4" height="4"/>
<rect x="596.7" y="452.3" width="4" height="4"/>
<rect x="584.3" y="458.3" width="4" height="4"/>
<rect x="587.3" y="430.9" width="4" height="4"/>
<rect x="592.3" y="459.5" width="4" height="4"/>
<rect x="602.4" y="444.4" width="4" height="4"/>
<rect x="596.7" y="449.7" width="4" height="4"/>
<rect x="593.7" y="474.1" width="4" height="4"/>
<rect x="591.2" y="469.5" width="4" height="4"/>
<rect x="593.3" y="457.0" width="4" height="4"/>
<rect x="591.4" y="457.9" width="4" height="4"/>
<rect x="587.6" y="442.4" width="4" height="4"/>
<rect x="596.4" y="435.0" width="4" height="4"/>
<rect x="580.2" y="431.2" width="4" height="4"/>
<rect x="577.7" y="433.6" width="4" height="4"/>
<rect x="588.8" y="447.8" width="4" height="4"/>
<rect x="581.6" y="439.1" width="4" height="4"/>
<rect x="601.1" y="465.8" width="4" height="4"/>
<rect x="601.9" y="460.4" width="4" height="4"/>
<rect x="596.6" y="419.7" width="4" height="4"/>
<rect x="589.8" y="452.7" width="4" height="4"/>
<rect x="586.9" y="475.5" width="4" height="4"/>
<rect x="595.9" y="456.8" width="4" height="4"/>
<rect x="592.7" y="443.4" width="4" height="4"/>
<rect x="583.9" y="466.4" width="4" height="4"/>
<rect x="592.8" y="482.8" width="4" height="4"/>
<rect x="602.7" y="445.5" width="4" height="4"/>
<rect x="588.9" y="447.8" width="4" height="4"/>
<rect x="579.4" y="443.5" width="4" height="4"/>
<rect x="581.8" y="442.5" width="4" height="4"/>
<rect x="588.6" y="442.5" width="4" height="4"/>
<rect x="580.1" y="434.4" width="4" height="4"/>
<rect x="583.1" y="472.0" width="4" height="4"/>
<rect x="596.9" y="473.5" width="4" height="4"/>
<rect x="591.7" y="482.9" width="4" height="4"/>
<rect x="594.7" y="453.5" width="4" height="4"/>
<rect x="581.7" y="455.5" width="4" height="4"/>
<rect x="584.9" y="424.8" width="4" height="4"/>
<rect x="604.5" y="420.4" width="4" height="4"/>
<rect x="585.3" y="461.7" width="4" height="4"/>
<rect x="597.4" y="468.3" width="4" height="4"/>
<rect x="587.3" y="443.5" width="4" height="4"/>
<rect x="589.4" y="429.6" width="4" height="4"/>
<rect x="588.1" y="464.7" width="4" height="4"/>
<rect x="603.1" y="423.1" width="4" height="4"/>
<rect x="595.0" y="463.2" width="4" height="4"/>
<rect x="586.2" y="445.6" width="4" height="4"/>
<rect x="587.6" y="460.4" width="4" height="4"/>
<rect x="597.0" y="451.9" width="4" height="4"/>
<rect x="583.1" y="426.4" width="4" height="4"/>
<rect x="601.9" y="426.1" width="4" height="4"/>
<rect x="586.0" y="436.7" width="4" height="4"/>
<rect x="608.4" y="432.9" width="4" height="4"/>
<rect x="594.8" y="441.0" width="4" height="4"/>
<rect x="602.2" y="448.8" width="4" height="4"/>
<rect x="596.4" y="454.1" width="4" height="4"/>
<rect x="592.4" y="438.4" width="4" height="4"/>
<rect x="585.1" y="439.6" width="4" height="4"/>
<rect x="586.8" y="444.8" width="4" height="4"/>
<rect x="589.3" y="473.8" width="4" height="4"/>
<rect x="597.2" y="427.4" width="4" height="4"/>
<rect x="586.8" y="436.1" width="4" height="4"/>
<rect x="580.4" y="426.2" width="4" height="4"/>
<rect x="596.7" y="439.1" width="4" height="4"/>
<rect x="590.7" y="465.6" width="4" height="4"/>
<rect x="591.8" y="472.0" width="4" height="4"/>
<rect x="600.0" y="470.9" width="4" height="4"/>
<rect x="587.7" y="452.2" width="4" height="4"/>
<rect x="601.8" y="420.8" width="4" height="4"/>
<rect x="584.9" y="465.6" width="4" height="4"/>
<rect x="591.5" y="447.8" width="4" height="4"/>
<rect x="588.1" y="461.3" width="4" height="4"/>
<rect x="583.3" y="435.1" width="4" height="4"/>
<rect x="597.7" y="450.3" width="4" height="4"/>
<rect x="594.0" y="476.3" width="4" height="4"/>
<rect x="595.9" y="448.1" width="4" height="4"/>
<rect x="590.0" y="450.5" width="4" height="4"/>
<rect x="592.8" y="457.6" width="4" height="4"/>
<rect x="585.5" y="455.7" width="4" height="4"/>
<rect x="589.8" y="466.8" width="4" height="4"/>
<rect x="605.0" y="426.3" width="4" height="4"/>
<rect x="591.9" y="463.3" width="4" height="4"/>
<rect x="597.9" y="466.3" width="4" height="4"/>
<rect x="596.8" y="446.7" width="4" height="4"/>
<rect x="591.7" y="463.0" width="4" height="4"/>
<rect x="593.1" y="424.3" width="4" height="4"/>
<rect x="597.4" y="458.4" width="4" height="4"/>
<rect x="601.7" y="419.6" width="4" height="4"/>
<rect x="601.1" y="443.4" width="4" height="4"/>
<rect x="600.7" y="440.0" width="4" height="4"/>
<rect x="588.8" y="449.4" width="4" height="4"/>
<rect x="602.3" y="427.3" width="4" height="4"/>
<rect x="587.9" y="444.4" width="4" height="4"/>
<rect x="582.4" y="450.6" width="4" height="4"/>
<rect x="596.0" y="477.7" width="4" height="4"/>
<rect x="586.7" y="421.8" width="4" height="4"/>
<rect x="588.6" y="437.2" width="4" height="4"/>
<rect x="593.2" y="477.2" width="4" height="4"/>
<rect x="589.4" y="426.1" width="4" height="4"/>
<rect x="603.5" y="429.1" width="4" height="4"/>
<rect x="599.0" y="440.8" width="4" height="4"/>
<rect x="589.6" y="430.8" width="4" height="4"/>
<rect x="587.5" y="433.0" width="4" height="4"/>
<rect x="584.5" y="427.3" width="4" height="4"/>
<rect x="593.3" y="465.6" width="4" height="4"/>
<rect x="591.8" y="477.1" width="4" height="4"/>
<rect x="604.6" y="429.1" width="4" height="4"/>
<rect x="601.1" y="459.9" width="4" height="4"/>
<rect x="582.0" y="433.3" width="4" height="4"/>
<rect x="591.2" y="429.4" width="4" height="4"/>
<rect x="600.1" y="454.8" width="4" height="4"/>
<rect x="579.1" y="436.1" width="4" height="4"/>
<rect x="603.3" y="429.5" width="4" height="4"/>
<rect x="588.0" y="435.1" width="4" height="4"/>
<rect x="599.7" y="446.1" width="4" height="4"/>
<rect x="583.4" y="431.9" width="4" height="4"/>
<rect x="602.3" y="448.8" width="4" height="4"/>
<rect x="601.1" y="466.7" width="4" height="4"/>
<rect x="587.0" y="464.3" width="4" height="4"/>
<rect x="606.6" y="444.7" width="4" height="4"/>
<rect x="599.8" y="462.0" width="4" height="4"/>
<rect x="602.4" y="437.1" width="4" height="4"/>
<rect x="587.6" y="442.5" width="4" height="4"/>
<rect x="606.3" y="422.7" width="4" height="4"/>
<rect x="592.8" y="466.0" width="4" height="4"/>
<rect x="596.1" y="428.6" width="4" height="4"/>
<rect x="591.2" y="436.0" width="4" height="4"/>
<rect x="601.7" y="424.8" width="4" height="4"/>
<rect x="588.7" y="460.5" width="4" height="4"/>
<rect x="601.8" y="432.9" width="4" height="4"/>
<rect x="601.2" y="463.7" width="4" height="4"/>
<rect x="595.0" y="455.8" width="4" height="4"/>
<rect x="584.2" y="424.0" width="4" height="4"/>
<rect x="593.9" y="474.1" width="4" height="4"/>
<rect x="594.1" y="445.4" width="4" height="4"/>
<rect x="582.8" y="435.2" width="4" height="4"/>
<rect x="602.0" y="446.6" width="4" height="4"/>
<rect x="596.5" y="447.4" width="4" height="4"/>
<rect x="599.4" y="422.7" width="4" height="4"/>
<rect x="579.7" y="426.2" width="4" height="4"/>
<rect x="591.5" y="478.9" width="4" height="4"/>
<rect x="595.2" y="420.5" width="4" height="4"/>
<rect x="586.9" y="441.5" width="4" height="4"/>
<rect x="592.0" y="480.3" width="4" height="4"/>
<rect x="596.9" y="464.1" width="4" height="4"/>
<rect x="598.0" y="438.2" width="4" height="4"/>
<rect x="596.0" y="441.5" width="4" height="4"/>
<rect x="579.3" y="457.0" width="4" height="4"/>
<rect x="604.6" y="426.1" width="4" height="4"/>
<rect x="592.8" y="438.6" width="4" height="4"/>
<rect x="587.3" y="446.2" width="4" height="4"/>
<rect x="596.3" y="428.8" width="4" height="4"/>
<rect x="600.5" y="456.7" width="4" height="4"/>
<rect x="598.5" y="453.5" width="4" height="4"/>
<rect x="589.2" y="476.1" width="4" height="4"/>
<rect x="588.8" y="435.4" width="4" height="4"/>
<rect x="585.0" y="457.9" width="4" height="4"/>
<rect x="599.8" y="428.7" width="4" height="4"/>
<rect x="588.8" y="462.1" width="4" height="4"/>
<rect x="596.4" y="433.1" width="4" height="4"/>
<rect x="599.6" y="450.8" width="4" height="4"/>
<rect x="601.4" y="427.7" width="4" height="4"/>
<rect x="599.9" y="426.3" width="4" height="4"/>
<rect x="592.9" y="457.3" width="4" height="4"/>
<rect x="592.5" y="429.3" width="4" height="4"/>
<rect x="595.5" y="464.0" width="4" height="4"/>
<rect x="592.6" y="468.3" width="4" height="4"/>
<rect x="597.2" y="454.9" width="4" height="4"/>
<rect x="589.8" y="422.5" width="4" height="4"/>
<rect x="596.6" y="436.1" width="4" height="4"/>
<rect x="586.1" y="421.9" width="4" height="4"/>
<rect x="596.4" y="470.4" width="4" height="4"/>
<rect x="586.0" y="450.2" width="4" height="4"/>
<rect x="594.1" y="437.5" width="4" height="4"/>
<rect x="603.2" y="422.2" width="4" height="4"/>
<rect x="579.7" y="456.2" width="4" height="4"/>
<rect x="584.7" y="457.9" width="4" height="4"/>
<rect x="592.9" y="474.6" width="4" height="4"/>
<rect x="579.9" y="432.9" width="4" height="4"/>
<rect x="603.9" y="435.2" width="4" height="4"/>
<rect x="587.2" y="464.2" width="4" height="4"/>
<rect x="599.1" y="430.8" width="4" height="4"/>
<rect x="585.9" y="428.8" width="4" height="4"/>
<rect x="602.6" y="436.1" width="4" height="4"/>
<rect x="587.1" y="419.5" width="4" height="4"/>
<rect x="581.5" y="440.9" width="4" height="4"/>
<rect x="591.3" y="422.8" width="4" height="4"/>
<rect x="588.4" y="475.2" width="4" height="4"/>
<rect x="606.1" y="433.9" width="4" height="4"/>
<rect x="580.9" y="452.6" width="4" height="4"/>
<rect x="582.0" y="434.3" width="4" height="4"/>
<rect x="597.6" y="427.1" width="4" height="4"/>
<rect x="591.3" y="450.9" width="4" height="4"/>
<rect x="594.8" y="476.3" width="4" height="4"/>
<rect x="593.0" y="476.0" width="4" height="4"/>
<rect x="582.6" y="421.9" width="4" height="4"/>
<rect x="604.1" y="423.1" width="4" height="4"/>
<rect x="588.0" y="422.3" width="4" height="4"/>
<rect x="599.9" y="438.8" width="4" height="4"/>
<rect x="589.2" y="464.0" width="4" height="4"/>
<rect x="589.9" y="474.8" width="4" height="4"/>
<rect x="589.7" y="455.0" width="4" height="4"/>
<rect x="578.2" y="434.9" width="4" height="4"/>
<rect x="597.6" y="455.2" width="4" height="4"/>
<rect x="590.9" y="443.6" width="4" height="4"/>
<rect x="593.8" y="459.1" width="4" height="4"/>
<rect x="597.6" y="472.9" width="4" height="4"/>
<rect x="603.7" y="426.0" width="4" height="4"/>
<rect x="583.9" y="421.0" width="4" height="4"/>
<rect x="580.8" y="445.1" width="4" height="4"/>
<rect x="606.1" y="446.1" width="4" height="4"/>
<rect x="588.7" y="425.1" width="4" height="4"/>
<rect x="598.6" y="446.6" width="4" height="4"/>
<rect x="586.5" y="463.1" width="4" height="4"/>
<rect x="593.2" y="479.5" width="4" height="4"/>
<rect x="599.2" y="459.5" width="4" height="4"/>
<rect x="592.6" y="434.6" width="4" height="4"/>
<rect x="586.7" y="442.6" width="4" height="4"/>
<rect x="591.5" y="426.7" width="4" height="4"/>
<rect x="591.4" y="480.1" width="4" height="4"/>
<rect x="595.9" y="437.9" width="4" height="4"/>
<rect x="584.3" y="445.8" width="4" height="4"/>
<rect x="583.3" y="443.9" width="4" height="4"/>
<rect x="601.7" y="465.5" width="4" height="4"/>
<rect x="604.5" y="436.7" width="4" height="4"/>
<rect x="587.9" y="433.6" width="4" height="4"/>
<rect x="587.6" y="428.7" width="4" height="4"/>
<rect x="579.6" y="435.5" width="4" height="4"/>
<rect x="583.1" y="450.0" width="4" height="4"/>
<rect x="581.9" y="437.4" width="4" height="4"/>
<rect x="604.1" y="446.6" width="4" height="4"/>
<rect x="602.1" y="467.3" width="4" height="4"/>
<rect x="589.1" y="479.2" width="4" height="4"/>
<rect x="584.6" y="460.4" width="4" height="4"/>
<rect x="601.3" y="461.7" width="4" height="4"/>
<rect x="585.3" y="435.5" width="4" height="4"/>
<rect x="594.7" y="450.1" width="4" height="4"/>
<rect x="594.5" y="480.0" width="4" height="4"/>
<rect x="590.8" y="457.1" width="4" height="4"/>
<rect x="593.1" y="461.8" width="4" height="4"/>
<rect x="589.8" y="481.6" width="4" height="4"/>
<rect x="593.3" y="424.5" width="4" height="4"/>
<rect x="583.6" y="458.5" width="4" height="4"/>
<rect x="602.2" y="430.4" width="4" height="4"/>
<rect x="595.4" y="443.4" width="4" height="4"/>
<rect x="605.3" y="426.4" width="4" height="4"/>
<rect x="586.7" y="441.0" width="4" height="4"/>
<rect x="594.7" y="465.8" width="4" height="4"/>
<rect x="586.5" y="427.6" width="4" height="4"/>
<rect x="582.2" y="426.7" width="4" height="4"/>
<rect x="586.5" y="436.2" width="4" height="4"/>
<rect x="592.5" y="451.5" width="4" height="4"/>
<rect x="597.9" y="447.8" width="4" height="4"/>
<rect x="594.5" y="465.8" width="4" height="4"/>
<rect x="595.1" y="465.6" width="4" height="4"/>
<rect x="591.2" y="444.7" width="4" height="4"/>
<rect x="602.0" y="428.7" width="4" height="4"/>
<rect x="584.0" y="422.7" width="4" height="4"/>
<rect x="594.9" y="426.9" width="4" height="4"/>
<rect x="579.9" y="425.9" width="4" height="4"/>
<rect x="583.0" y="459.4" width="4" height="4"/>
<rect x="595.9" y="442.0" width="4" height="4"/>
<rect x="589.2" y="459.6" width="4" height="4"/>
<rect x="588.0" y="425.4" width="4" height="4"/>
<rect x="587.7" y="467.7" width="4" height="4"/>
<rect x="583.9" y="427.5" width="4" height="4"/>
<rect x="587.2" y="463.5" width="4" height="4"/>
<rect x="599.2" y="457.9" width="4" height="4"/>
<rect x="604.3" y="451.7" width="4" height="4"/>
<rect x="585.8" y="455.1" width="4" height="4"/>
<rect x="587.8" y="475.4" width="4" height="4"/>
<rect x="588.6" y="458.6" width="4" height="4"/>
<rect x="592.9" y="434.6" width="4" height="4"/>
<rect x="583.2" y="446.8" width="4" height="4"/>
<rect x="591.6" y="435.8" width="4" height="4"/>
<rect x="596.0" y="439.6" width="4" height="4"/>
<rect x="604.2" y="433.6" width="4" height="4"/>
<rect x="576.7" y="436.6" width="4" height="4"/>
<rect x="581.7" y="428.6" width="4" height="4"/>
<rect x="584.1" y="439.6" width="4" height="4"/>
<rect x="588.5" y="429.8" width="4" height="4"/>
<rect x="576.4" y="433.5" width="4" height="4"/>
<rect x="588.8" y="454.5" width="4" height="4"/>
<rect x="600.9" y="436.2" width="4" height="4"/>
<rect x="581.6" y="451.1" width="4" height="4"/>
<rect x="582.9" y="449.7" width="4" height="4"/>
<rect x="585.1" y="427.2" width="4" height="4"/>
<rect x="593.8" y="481.8" width="4" height="4"/>
<rect x="600.3" y="439.5" width="4" height="4"/>
<rect x="590.4" y="455.0" width="4" height="4"/>
<rect x="598.8" y="419.6" width="4" height="4"/>
<rect x="597.5" y="465.6" width="4" height="4"/>
<rect x="595.2" y="435.9" width="4" height="4"/>
<rect x="593.8" y="478.1" width="4" height="4"/>
<rect x="595.3" y="452.9" width="4" height="4"/>
<rect x="601.2" y="468.1" width="4" height="4"/>
<rect x="588.2" y="458.9" width="4" height="4"/>
<rect x="592.0" y="465.6" width="4" height="4"/>
<rect x="591.8" y="463.7" width="4" height="4"/>
<rect x="591.7" y="465.2" width="4" height="4"/>
<rect x="593.7" y="470.6" width="4" height="4"/>
<rect x="600.6" y="425.0" width="4" height="4"/>
<rect x="592.9" y="444.1" width="4" height="4"/>
<rect x="586.3" y="438.8" width="4" height="4"/>
<rect x="586.2" y="435.7" width="4" height="4"/>
<rect x="584.7" y="448.2" width="4" height="4"/>
<rect x="595.5" y="441.4" width="4" height="4"/>
<rect x="595.1" y="423.4" width="4" height="4"/>
<rect x="579.8" y="435.4" width="4" height="4"/>
<rect x="596.3" y="474.5" width="4" height="4"/>
<rect x="581.4" y="463.7" width="4" height="4"/>
<rect x="581.7" y="464.9" width="4" height="4"/>
<rect x="596.7" y="423.1" width="4" height="4"/>
<rect x="591.2" y="431.4" width="4" height="4"/>
<rect x="585.7" y="450.6" width="4" height="4"/>
<rect x="590.8" y="442.1" width="4" height="4"/>
<rect x="593.4" y="429.4" width="4" height="4"/>
<rect x="587.5" y="440.7" width="4" height="4"/>
<rect x="603.9" y="437.8" width="4" height="4"/>
<rect x="591.6" y="457.1" width="4" height="4"/>
<rect x="584.8" y="458.1" width="4" height="4"/>
<rect x="587.5" y="472.1" width="4" height="4"/>
<rect x="591.9" y="440.1" width="4" height="4"/>
<rect x="588.1" y="448.1" width="4" height="4"/>
<rect x="593.1" y="445.0" width="4" height="4"/>
<rect x="587.5" y="471.1" width="4" height="4"/>
<rect x="588.5" y="472.1" width="4" height="4"/>
<rect x="583.0" y="457.1" width="4" height="4"/>
<rect x="583.0" y="423.3" width="4" height="4"/>
<rect x="599.2" y="422.3" width="4" height="4"/>
<rect x="601.1" y="466.9" width="4" height="4"/>
<rect x="604.6" y="447.7" width="4" height="4"/>
<rect x="600.5" y="467.1" width="4" height="4"/>
<rect x="596.3" y="451.9" width="4" height="4"/>
<rect x="589.2" y="457.9" width="4" height="4"/>
<rect x="598.4" y="447.7" width="4" height="4"/>
<rect x="599.4" y="463.4" width="4" height="4"/>
<rect x="603.7" y="449.9" width="4" height="4"/>
<rect x="597.7" y="467.4" width="4" height="4"/>
<rect x="595.1" y="443.4" width="4" height="4"/>
<rect x="594.3" y="457.1" width="4" height="4"/>
<rect x="599.0" y="423.3" width="4" height="4"/>
<rect x="596.9" y="434.9" width="4" height="4"/>
<rect x="590.1" y="478.8" width="4" height="4"/>
<rect x="593.1" y="477.9" width="4" height="4"/>
<rect x="590.3" y="456.4" width="4" height="4"/>
<rect x="604.9" y="429.7" width="4" height="4"/>
<rect x="581.2" y="430.9" width="4" height="4"/>
<rect x="589.2" y="424.9" width="4" height="4"/>
<rect x="579.0" y="435.8" width="4" height="4"/>
<rect x="583.5" y="429.7" width="4" height="4"/>
<rect x="596.3" y="450.4" width="4" height="4"/>
<rect x="581.6" y="447.0" width="4" height="4"/>
<rect x="590.4" y="445.1" width="4" height="4"/>
<rect x="589.8" y="446.7" width="4" height="4"/>
<rect x="592.1" y="453.4" width="4" height="4"/>
<rect x="582.4" y="445.6" width="4" height="4"/>
<rect x="583.0" y="326.4" width="4" height="4"/>
<rect x="612.1" y="419.0" width="4" height="4"/>
<rect x="621.2" y="420.1" width="4" height="4"/>
<rect x="629.8" y="419.0" width="4" height="4"/>
<rect x="617.6" y="432.7" width="4" height="4"/>
<rect x="624.4" y="434.5" width="4" height="4"/>
<rect x="627.3" y="434.5" width="4" height="4"/>
<rect x="636.3" y="434.5" width="4" height="4"/>
<rect x="651.4" y="436.3" width="4" height="4"/>
<rect x="615.4" y="442.8" width="4" height="4"/>
<rect x="630.9" y="454.3" width="4" height="4"/>
<rect x="610.3" y="447.1" width="4" height="4"/>
<rect x="567.8" y="455.0" width="4" height="4"/>
<rect x="573.2" y="448.9" width="4" height="4"/>
<rect x="570.7" y="468.7" width="4" height="4"/>
<rect x="582.4" y="350.0" width="4" height="4"/>
<rect x="582.8" y="355.1" width="4" height="4"/>
<rect x="583.6" y="360.2" width="4" height="4"/>
<rect x="584.2" y="364.5" width="4" height="4"/>
<rect x="583.6" y="373.9" width="4" height="4"/>
<rect x="587.4" y="374.8" width="4" height="4"/>
<rect x="585.4" y="384.2" width="4" height="4"/>
<rect x="584.5" y="388.4" width="4" height="4"/>
<rect x="585.0" y="392.7" width="4" height="4"/>
<rect x="585.4" y="397.0" width="4" height="4"/>
<rect x="585.0" y="401.2" width="4" height="4"/>
<rect x="585.4" y="405.5" width="4" height="4"/>
<rect x="586.2" y="409.8" width="4" height="4"/>
<rect x="586.2" y="414.1" width="4" height="4"/>
<rect x="597.7" y="350.8" width="4" height="4"/>
<rect x="597.3" y="355.1" width="4" height="4"/>
<rect x="600.7" y="355.1" width="4" height="4"/>
<rect x="599.0" y="366.2" width="4" height="4"/>
<rect x="599.4" y="371.3" width="4" height="4"/>
<rect x="599.0" y="379.0" width="4" height="4"/>
<rect x="597.7" y="385.9" width="4" height="4"/>
<rect x="594.8" y="390.1" width="4" height="4"/>
<rect x="598.2" y="392.7" width="4" height="4"/>
<rect x="595.9" y="397.0" width="4" height="4"/>
<rect x="597.7" y="401.2" width="4" height="4"/>
<rect x="596.5" y="405.5" width="4" height="4"/>
<rect x="594.2" y="411.5" width="4" height="4"/>
<rect x="598.2" y="409.8" width="4" height="4"/>
<rect x="587.9" y="389.3" width="4" height="4"/>
<rect x="587.1" y="397.8" width="4" height="4"/>
<rect x="587.9" y="406.4" width="4" height="4"/>
<rect x="588.4" y="413.2" width="4" height="4"/>
<rect x="594.8" y="394.4" width="4" height="4"/>
<rect x="593.9" y="403.0" width="4" height="4"/>
<rect x="593.0" y="408.1" width="4" height="4"/>
<rect x="595.9" y="414.9" width="4" height="4"/>
<rect x="590.5" y="416.6" width="4" height="4"/>
<rect x="592.2" y="414.1" width="4" height="4"/>
</g>
<path d="M583.0,311.4V488.6M602.7,311.4V488.6M513.9,419.5H671.7" stroke="#48a848" stroke-width="1" fill="none" shape-rendering="crispEdges"/>
<g fill="#ea0000" stroke="#c80000" stroke-width="0.6">
<rect x="580.2" y="315.8" width="4.4" height="4.4"/>
<rect x="606.2" y="328.4" width="4.4" height="4.4"/>
<rect x="580.0" y="339.2" width="4.4" height="4.4"/>
<rect x="566.3" y="344.6" width="4.4" height="4.4"/>
<rect x="580.9" y="350.6" width="4.4" height="4.4"/>
<rect x="577.1" y="359.2" width="4.4" height="4.4"/>
<rect x="569.4" y="365.5" width="4.4" height="4.4"/>
<rect x="572.3" y="371.1" width="4.4" height="4.4"/>
<rect x="580.0" y="373.2" width="4.4" height="4.4"/>
<rect x="575.4" y="377.6" width="4.4" height="4.4"/>
<rect x="580.0" y="383.1" width="4.4" height="4.4"/>
<rect x="570.1" y="389.4" width="4.4" height="4.4"/>
<rect x="578.7" y="387.4" width="4.4" height="4.4"/>
<rect x="577.5" y="390.8" width="4.4" height="4.4"/>
<rect x="576.3" y="394.2" width="4.4" height="4.4"/>
<rect x="578.3" y="395.1" width="4.4" height="4.4"/>
<rect x="575.7" y="397.6" width="4.4" height="4.4"/>
<rect x="578.0" y="399.3" width="4.4" height="4.4"/>
<rect x="575.2" y="401.9" width="4.4" height="4.4"/>
<rect x="578.0" y="403.6" width="4.4" height="4.4"/>
<rect x="574.0" y="406.2" width="4.4" height="4.4"/>
<rect x="576.9" y="407.0" width="4.4" height="4.4"/>
<rect x="575.7" y="409.6" width="4.4" height="4.4"/>
<rect x="578.3" y="411.3" width="4.4" height="4.4"/>
<rect x="578.0" y="414.7" width="4.4" height="4.4"/>
<rect x="568.1" y="416.9" width="4.4" height="4.4"/>
<rect x="579.2" y="417.3" width="4.4" height="4.4"/>
<rect x="603.1" y="339.2" width="4.4" height="4.4"/>
<rect x="610.8" y="351.5" width="4.4" height="4.4"/>
<rect x="625.7" y="358.3" width="4.4" height="4.4"/>
<rect x="612.8" y="372.0" width="4.4" height="4.4"/>
<rect x="620.2" y="379.7" width="4.4" height="4.4"/>
<rect x="603.1" y="380.5" width="4.4" height="4.4"/>
<rect x="604.0" y="390.8" width="4.4" height="4.4"/>
<rect x="608.2" y="390.4" width="4.4" height="4.4"/>
<rect x="612.2" y="391.6" width="4.4" height="4.4"/>
<rect x="603.1" y="394.2" width="4.4" height="4.4"/>
<rect x="606.5" y="395.1" width="4.4" height="4.4"/>
<rect x="609.9" y="395.9" width="4.4" height="4.4"/>
<rect x="604.0" y="398.5" width="4.4" height="4.4"/>
<rect x="608.2" y="399.3" width="4.4" height="4.4"/>
<rect x="616.8" y="399.3" width="4.4" height="4.4"/>
<rect x="604.8" y="402.8" width="4.4" height="4.4"/>
<rect x="609.1" y="403.6" width="4.4" height="4.4"/>
<rect x="612.5" y="402.8" width="4.4" height="4.4"/>
<rect x="621.9" y="404.5" width="4.4" height="4.4"/>
<rect x="604.0" y="406.2" width="4.4" height="4.4"/>
<rect x="607.4" y="407.0" width="4.4" height="4.4"/>
<rect x="610.8" y="407.9" width="4.4" height="4.4"/>
<rect x="604.8" y="410.4" width="4.4" height="4.4"/>
<rect x="608.2" y="411.3" width="4.4" height="4.4"/>
<rect x="613.9" y="412.5" width="4.4" height="4.4"/>
<rect x="604.0" y="413.9" width="4.4" height="4.4"/>
<rect x="607.4" y="414.7" width="4.4" height="4.4"/>
</g>
<rect x="513.9" y="311.4" width="157.8" height="177.2" fill="none" stroke="#151515" stroke-width="1.35"/>
<path d="M520.3,488.6v3.6M556.3,488.6v3.6M592.6,488.6v3.6M629.1,488.6v3.6M665.9,488.6v3.6M513.9,337.4h-3.6M513.9,361.0h-3.6M513.9,385.3h-3.6M513.9,409.9h-3.6M513.9,434.3h-3.6M513.9,458.0h-3.6" stroke="#151515" stroke-width="1.0" fill="none"/>
<g font-family='"Liberation Sans", sans-serif' font-weight="bold" fill="#111" stroke="#111" stroke-width="0.22" font-size="10">
<text transform="translate(591.0,298.0) scale(1,1.06)" text-anchor="middle" font-size="9.75">HF vs HF-R (65 miRNAs)</text>
<text transform="translate(520.5,503.8) scale(1,1.06)" text-anchor="middle">-2</text>
<text transform="translate(556.5,503.8) scale(1,1.06)" text-anchor="middle">-1</text>
<text transform="translate(591.1,503.8) scale(1,1.06)" text-anchor="middle">0</text>
<text transform="translate(627.6,503.8) scale(1,1.06)" text-anchor="middle">1</text>
<text transform="translate(664.4,503.8) scale(1,1.06)" text-anchor="middle">2</text>
<text transform="translate(506.2,339.6) scale(1,1.06)" text-anchor="end">3</text>
<text transform="translate(506.2,364.2) scale(1,1.06)" text-anchor="end">2.5</text>
<text transform="translate(506.2,387.5) scale(1,1.06)" text-anchor="end">2</text>
<text transform="translate(506.2,412.3) scale(1,1.06)" text-anchor="end">1.5</text>
<text transform="translate(506.2,433.5) scale(1,1.06)" text-anchor="end">1</text>
<text transform="translate(506.2,459.7) scale(1,1.06)" text-anchor="end">0.5</text>
<text transform="translate(471.0,385.8) rotate(-90) scale(1,1.06)" text-anchor="middle">-Log10 (value)</text>
<text transform="translate(590.0,522.0) scale(1,1.06)" text-anchor="middle" font-size="9.7">Log2 (Fold change)</text>
</g>
</svg></body></html>
